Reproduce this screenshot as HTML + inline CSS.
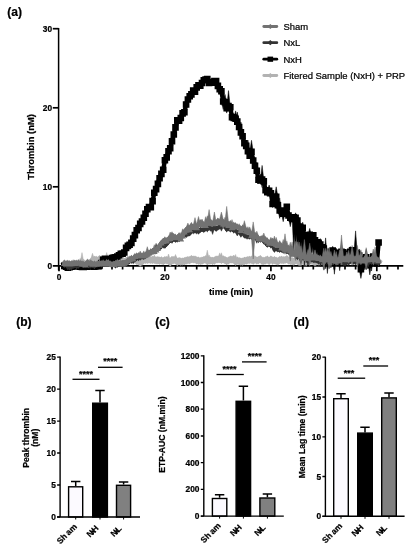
<!DOCTYPE html>
<html lang="en"><head><meta charset="utf-8"><title>Figure</title>
<style>html,body{margin:0;padding:0;background:#fff}svg{display:block;font-family:"Liberation Sans",Arial,sans-serif;font-weight:bold}text{stroke:#000;stroke-width:0.22px}</style>
</head><body>
<svg width="411" height="550" viewBox="0 0 411 550">
<rect width="411" height="550" fill="#fff"/>
<g stroke="#000" stroke-width="1.5" fill="none">
<path d="M58.6 28V270.3"/>
<path d="M52.8 265.9H403.3" stroke-width="1.7"/>
</g>
<g stroke="#000" stroke-width="1.7" fill="none">
<path d="M52.8 186.8H58.6"/>
<path d="M52.8 107.8H58.6"/>
<path d="M52.8 28.7H58.6"/>
<path d="M59.0 265.9v5.3M69.6 265.9v3.7M80.2 265.9v3.7M90.8 265.9v3.7M101.4 265.9v3.7M112.0 265.9v3.7M122.6 265.9v3.7M133.2 265.9v3.7M143.8 265.9v3.7M154.3 265.9v3.7M164.9 265.9v5.3M175.5 265.9v3.7M186.1 265.9v3.7M196.7 265.9v3.7M207.3 265.9v3.7M217.9 265.9v3.7M228.5 265.9v3.7M239.1 265.9v3.7M249.7 265.9v3.7M260.3 265.9v3.7M270.9 265.9v5.3M281.5 265.9v3.7M292.1 265.9v3.7M302.7 265.9v3.7M313.3 265.9v3.7M323.8 265.9v3.7M334.4 265.9v3.7M345.0 265.9v3.7M355.6 265.9v3.7M366.2 265.9v3.7M376.8 265.9v5.3M387.4 265.9v3.7M398.0 265.9v3.7"/>
</g>
<g stroke="#b2b2b2" fill="#b2b2b2">
<path d="M62.1 263.6L64.3 261.7L66.5 263.6L64.3 263.9zM63.9 264.1L66.1 261.3L68.3 264.1L66.1 264.5zM65.6 263.8L67.8 262.2L70.0 263.8L67.8 263.9zM67.4 264.3L69.6 263.3L71.8 264.3L69.6 265.0zM69.2 265.3L71.4 263.4L73.6 265.3L71.4 266.5zM70.9 265.4L73.1 263.2L75.3 265.4L73.1 266.9zM72.7 264.0L74.9 263.4L77.1 264.0L74.9 264.3zM74.5 264.3L76.7 262.6L78.9 264.3L76.7 264.4zM76.2 263.2L78.4 261.4L80.6 263.2L78.4 263.3zM78.0 264.0L80.2 258.3L82.4 264.0L80.2 264.3zM79.8 264.5L82.0 252.6L84.2 264.5L82.0 264.5zM81.5 263.4L83.7 259.3L85.9 263.4L83.7 264.1zM83.3 264.3L85.5 263.7L87.7 264.3L85.5 265.1zM85.1 265.6L87.3 261.0L89.5 265.6L87.3 265.7zM86.8 263.1L89.0 262.7L91.2 263.1L89.0 263.8zM88.6 263.5L90.8 260.3L93.0 263.5L90.8 264.4zM90.3 260.4L92.5 253.3L94.7 260.4L92.5 260.4zM92.1 259.9L94.3 256.8L96.5 259.9L94.3 260.4zM93.9 259.8L96.1 259.3L98.3 259.8L96.1 261.3zM95.6 260.7L97.8 259.0L100.0 260.7L97.8 261.6zM97.4 259.0L99.6 256.4L101.8 259.0L99.6 259.2zM99.2 260.0L101.4 259.5L103.6 260.0L101.4 260.8zM100.9 260.0L103.1 258.9L105.3 260.0L103.1 260.6zM102.7 259.9L104.9 257.3L107.1 259.9L104.9 260.1zM104.5 260.3L106.7 252.6L108.9 260.3L106.7 261.4zM106.2 261.3L108.4 257.3L110.6 261.3L108.4 263.3zM108.0 260.2L110.2 259.7L112.4 260.2L110.2 260.6zM109.8 261.0L112.0 260.2L114.2 261.0L112.0 261.7zM111.5 260.4L113.7 259.0L115.9 260.4L113.7 260.9zM113.3 261.0L115.5 260.3L117.7 261.0L115.5 261.7zM115.1 261.2L117.3 260.4L119.5 261.2L117.3 261.6zM116.8 260.3L119.0 258.0L121.2 260.3L119.0 260.5zM118.6 261.8L120.8 259.3L123.0 261.8L120.8 262.4zM120.4 261.1L122.6 260.0L124.8 261.1L122.6 261.2zM122.1 262.2L124.3 258.0L126.5 262.2L124.3 263.3zM123.9 261.0L126.1 258.2L128.3 261.0L126.1 261.5zM125.7 259.8L127.9 259.3L130.1 259.8L127.9 260.2zM127.4 259.6L129.6 258.0L131.8 259.6L129.6 260.1zM129.2 259.4L131.4 255.4L133.6 259.4L131.4 260.4zM131.0 260.3L133.2 257.4L135.4 260.3L133.2 260.4zM132.7 259.2L134.9 258.7L137.1 259.2L134.9 259.8zM134.5 260.8L136.7 256.8L138.9 260.8L136.7 260.8zM136.3 261.3L138.5 257.5L140.7 261.3L138.5 261.7zM138.0 262.6L140.2 261.2L142.4 262.6L140.2 264.1zM139.8 261.7L142.0 260.9L144.2 261.7L142.0 262.4zM141.6 259.9L143.8 255.7L146.0 259.9L143.8 260.9zM143.3 259.8L145.5 256.2L147.7 259.8L145.5 260.1zM145.1 259.8L147.3 257.8L149.5 259.8L147.3 260.3zM146.8 259.6L149.0 257.6L151.2 259.6L149.0 260.5zM148.6 260.0L150.8 258.6L153.0 260.0L150.8 261.3zM150.4 259.9L152.6 257.2L154.8 259.9L152.6 260.4zM152.1 259.8L154.3 255.1L156.5 259.8L154.3 259.8zM153.9 260.4L156.1 258.0L158.3 260.4L156.1 261.3zM155.7 260.4L157.9 256.4L160.1 260.4L157.9 260.7zM157.4 260.7L159.6 259.9L161.8 260.7L159.6 261.3zM159.2 260.4L161.4 258.0L163.6 260.4L161.4 261.0zM161.0 261.1L163.2 259.8L165.4 261.1L163.2 261.8zM162.7 260.2L164.9 258.3L167.1 260.2L164.9 260.6zM164.5 260.1L166.7 258.6L168.9 260.1L166.7 260.4zM166.3 261.0L168.5 254.0L170.7 261.0L168.5 262.5zM168.0 262.3L170.2 260.3L172.4 262.3L170.2 262.5zM169.8 260.0L172.0 256.4L174.2 260.0L172.0 260.0zM171.6 260.1L173.8 259.0L176.0 260.1L173.8 261.0zM173.3 260.0L175.5 254.5L177.7 260.0L175.5 260.0zM175.1 262.0L177.3 258.9L179.5 262.0L177.3 263.4zM176.9 261.1L179.1 259.8L181.3 261.1L179.1 261.4zM178.6 261.7L180.8 257.9L183.0 261.7L180.8 262.7zM180.4 261.5L182.6 261.1L184.8 261.5L182.6 262.4zM182.2 261.2L184.4 259.2L186.6 261.2L184.4 262.3zM183.9 260.6L186.1 259.3L188.3 260.6L186.1 260.8zM185.7 260.1L187.9 258.1L190.1 260.1L187.9 261.5zM187.5 260.2L189.7 257.6L191.9 260.2L189.7 260.3zM189.2 259.2L191.4 258.5L193.6 259.2L191.4 260.1zM191.0 259.5L193.2 257.9L195.4 259.5L193.2 259.7zM192.8 259.5L195.0 257.9L197.2 259.5L195.0 260.2zM194.5 260.4L196.7 258.1L198.9 260.4L196.7 261.2zM196.3 260.7L198.5 258.9L200.7 260.7L198.5 261.2zM198.1 261.0L200.3 259.8L202.5 261.0L200.3 261.3zM199.8 260.7L202.0 259.6L204.2 260.7L202.0 260.8zM201.6 260.0L203.8 258.7L206.0 260.0L203.8 260.5zM203.4 259.4L205.6 258.0L207.8 259.4L205.6 259.6zM205.1 261.2L207.3 250.2L209.5 261.2L207.3 261.2zM206.9 260.6L209.1 255.0L211.3 260.6L209.1 261.2zM208.6 260.5L210.8 258.1L213.0 260.5L210.8 261.1zM210.4 260.9L212.6 259.2L214.8 260.9L212.6 262.0zM212.2 260.6L214.4 259.4L216.6 260.6L214.4 261.1zM213.9 259.5L216.1 257.2L218.3 259.5L216.1 260.0zM215.7 259.5L217.9 258.1L220.1 259.5L217.9 260.1zM217.5 259.2L219.7 252.9L221.9 259.2L219.7 259.2zM219.2 259.8L221.4 252.8L223.6 259.8L221.4 260.9zM221.0 259.4L223.2 257.6L225.4 259.4L223.2 260.6zM222.8 260.1L225.0 257.3L227.2 260.1L225.0 260.3zM224.5 261.1L226.7 260.5L228.9 261.1L226.7 261.2zM226.3 260.5L228.5 258.4L230.7 260.5L228.5 261.5zM228.1 259.5L230.3 257.6L232.5 259.5L230.3 259.6zM229.8 259.7L232.0 257.7L234.2 259.7L232.0 260.1zM231.6 259.7L233.8 255.0L236.0 259.7L233.8 259.7zM233.4 261.6L235.6 254.5L237.8 261.6L235.6 262.0zM235.1 260.7L237.3 259.6L239.5 260.7L237.3 261.8zM236.9 261.2L239.1 260.0L241.3 261.2L239.1 261.3zM238.7 261.6L240.9 261.2L243.1 261.6L240.9 262.4zM240.4 261.6L242.6 260.4L244.8 261.6L242.6 261.8zM242.2 260.8L244.4 257.2L246.6 260.8L244.4 261.5zM244.0 260.7L246.2 258.1L248.4 260.7L246.2 261.5zM245.7 260.1L247.9 258.0L250.1 260.1L247.9 260.8zM247.5 259.9L249.7 257.0L251.9 259.9L249.7 260.3zM249.3 259.8L251.5 259.2L253.7 259.8L251.5 260.3zM251.0 260.6L253.2 251.2L255.4 260.6L253.2 260.6zM252.8 259.7L255.0 259.1L257.2 259.7L255.0 259.8zM254.6 260.5L256.8 259.5L259.0 260.5L256.8 260.9zM256.3 260.1L258.5 258.5L260.7 260.1L258.5 260.3zM258.1 259.2L260.3 258.5L262.5 259.2L260.3 259.2zM259.9 260.8L262.1 259.0L264.3 260.8L262.1 261.9zM261.6 260.9L263.8 260.1L266.0 260.9L263.8 261.4zM263.4 260.4L265.6 257.2L267.8 260.4L265.6 260.6zM265.1 259.7L267.3 257.4L269.5 259.7L267.3 261.0zM266.9 260.9L269.1 257.7L271.3 260.9L269.1 261.0zM268.7 259.5L270.9 256.3L273.1 259.5L270.9 260.0zM270.4 260.6L272.6 259.2L274.8 260.6L272.6 261.0zM272.2 260.2L274.4 257.4L276.6 260.2L274.4 261.7zM274.0 260.8L276.2 257.9L278.4 260.8L276.2 262.6zM275.7 261.3L277.9 258.8L280.1 261.3L277.9 262.2zM277.5 260.1L279.7 259.2L281.9 260.1L279.7 261.0zM279.3 259.8L281.5 257.0L283.7 259.8L281.5 261.1zM281.0 260.2L283.2 258.7L285.4 260.2L283.2 260.4zM282.8 260.0L285.0 258.0L287.2 260.0L285.0 260.2zM284.6 259.2L286.8 257.5L289.0 259.2L286.8 260.2zM286.3 260.5L288.5 259.8L290.7 260.5L288.5 260.8zM288.1 261.0L290.3 259.8L292.5 261.0L290.3 261.1zM289.9 261.1L292.1 260.3L294.3 261.1L292.1 261.6zM291.6 261.6L293.8 259.8L296.0 261.6L293.8 262.8zM293.4 260.1L295.6 257.9L297.8 260.1L295.6 261.0zM295.2 260.9L297.4 258.1L299.6 260.9L297.4 261.1zM296.9 261.9L299.1 260.3L301.3 261.9L299.1 262.2zM298.7 261.8L300.9 258.1L303.1 261.8L300.9 261.9zM300.5 260.3L302.7 258.2L304.9 260.3L302.7 260.4zM302.2 262.0L304.4 258.9L306.6 262.0L304.4 263.4zM304.0 261.9L306.2 261.2L308.4 261.9L306.2 262.0zM305.8 261.2L308.0 257.8L310.2 261.2L308.0 262.0zM307.5 260.2L309.7 259.1L311.9 260.2L309.7 260.2zM309.3 260.7L311.5 256.7L313.7 260.7L311.5 261.1zM311.1 261.4L313.3 256.5L315.5 261.4L313.3 261.9zM312.8 262.1L315.0 260.6L317.2 262.1L315.0 262.9zM314.6 261.3L316.8 260.2L319.0 261.3L316.8 262.1zM316.4 261.3L318.6 258.9L320.8 261.3L318.6 261.6zM318.1 261.9L320.3 260.3L322.5 261.9L320.3 262.4zM319.9 260.5L322.1 257.0L324.3 260.5L322.1 262.8zM321.6 261.1L323.8 260.0L326.0 261.1L323.8 261.2zM323.4 261.3L325.6 257.8L327.8 261.3L325.6 261.8zM325.2 261.9L327.4 261.0L329.6 261.9L327.4 262.7zM326.9 261.1L329.1 258.7L331.3 261.1L329.1 261.7zM328.7 261.3L330.9 256.7L333.1 261.3L330.9 261.8zM330.5 260.6L332.7 257.1L334.9 260.6L332.7 260.9zM332.2 259.1L334.4 254.3L336.6 259.1L334.4 259.8zM334.0 260.8L336.2 256.6L338.4 260.8L336.2 261.7zM335.8 260.0L338.0 259.0L340.2 260.0L338.0 260.1zM337.5 261.1L339.7 258.2L341.9 261.1L339.7 261.8zM339.3 259.5L341.5 256.0L343.7 259.5L341.5 259.7zM341.1 260.1L343.3 257.2L345.5 260.1L343.3 261.4zM342.8 259.5L345.0 258.3L347.2 259.5L345.0 259.8zM344.6 260.5L346.8 257.1L349.0 260.5L346.8 260.9zM346.4 260.9L348.6 256.5L350.8 260.9L348.6 261.1zM348.1 260.5L350.3 258.4L352.5 260.5L350.3 260.9zM349.9 261.0L352.1 258.8L354.3 261.0L352.1 261.9zM351.7 260.5L353.9 259.4L356.1 260.5L353.9 261.8zM353.4 260.0L355.6 256.1L357.8 260.0L355.6 260.8zM355.2 260.6L357.4 257.1L359.6 260.6L357.4 261.0zM357.0 260.2L359.2 258.7L361.4 260.2L359.2 260.4zM358.7 261.9L360.9 260.9L363.1 261.9L360.9 263.0zM360.5 259.8L362.7 259.0L364.9 259.8L362.7 259.9zM362.3 259.8L364.5 258.2L366.7 259.8L364.5 260.9zM364.0 260.2L366.2 259.2L368.4 260.2L366.2 260.7zM365.8 261.6L368.0 259.0L370.2 261.6L368.0 262.3zM367.6 260.6L369.8 257.2L372.0 260.6L369.8 261.6zM369.3 260.5L371.5 259.7L373.7 260.5L371.5 262.2zM371.1 261.1L373.3 257.9L375.5 261.1L373.3 261.6zM372.9 260.4L375.1 256.8L377.3 260.4L375.1 261.1zM374.6 260.7L376.8 260.3L379.0 260.7L376.8 261.0zM376.4 261.3L378.6 260.9L380.8 261.3L378.6 262.4z" stroke-width="0.5" stroke-linejoin="miter"/>
<polyline points="64.3,263.6 66.1,264.1 67.8,263.8 69.6,264.3 71.4,265.3 73.1,265.4 74.9,264.0 76.7,264.3 78.4,263.2 80.2,264.0 82.0,264.5 83.7,263.4 85.5,264.3 87.3,265.6 89.0,263.1 90.8,263.5 92.5,260.4 94.3,259.9 96.1,259.8 97.8,260.7 99.6,259.0 101.4,260.0 103.1,260.0 104.9,259.9 106.7,260.3 108.4,261.3 110.2,260.2 112.0,261.0 113.7,260.4 115.5,261.0 117.3,261.2 119.0,260.3 120.8,261.8 122.6,261.1 124.3,262.2 126.1,261.0 127.9,259.8 129.6,259.6 131.4,259.4 133.2,260.3 134.9,259.2 136.7,260.8 138.5,261.3 140.2,262.6 142.0,261.7 143.8,259.9 145.5,259.8 147.3,259.8 149.0,259.6 150.8,260.0 152.6,259.9 154.3,259.8 156.1,260.4 157.9,260.4 159.6,260.7 161.4,260.4 163.2,261.1 164.9,260.2 166.7,260.1 168.5,261.0 170.2,262.3 172.0,260.0 173.8,260.1 175.5,260.0 177.3,262.0 179.1,261.1 180.8,261.7 182.6,261.5 184.4,261.2 186.1,260.6 187.9,260.1 189.7,260.2 191.4,259.2 193.2,259.5 195.0,259.5 196.7,260.4 198.5,260.7 200.3,261.0 202.0,260.7 203.8,260.0 205.6,259.4 207.3,261.2 209.1,260.6 210.8,260.5 212.6,260.9 214.4,260.6 216.1,259.5 217.9,259.5 219.7,259.2 221.4,259.8 223.2,259.4 225.0,260.1 226.7,261.1 228.5,260.5 230.3,259.5 232.0,259.7 233.8,259.7 235.6,261.6 237.3,260.7 239.1,261.2 240.9,261.6 242.6,261.6 244.4,260.8 246.2,260.7 247.9,260.1 249.7,259.9 251.5,259.8 253.2,260.6 255.0,259.7 256.8,260.5 258.5,260.1 260.3,259.2 262.1,260.8 263.8,260.9 265.6,260.4 267.3,259.7 269.1,260.9 270.9,259.5 272.6,260.6 274.4,260.2 276.2,260.8 277.9,261.3 279.7,260.1 281.5,259.8 283.2,260.2 285.0,260.0 286.8,259.2 288.5,260.5 290.3,261.0 292.1,261.1 293.8,261.6 295.6,260.1 297.4,260.9 299.1,261.9 300.9,261.8 302.7,260.3 304.4,262.0 306.2,261.9 308.0,261.2 309.7,260.2 311.5,260.7 313.3,261.4 315.0,262.1 316.8,261.3 318.6,261.3 320.3,261.9 322.1,260.5 323.8,261.1 325.6,261.3 327.4,261.9 329.1,261.1 330.9,261.3 332.7,260.6 334.4,259.1 336.2,260.8 338.0,260.0 339.7,261.1 341.5,259.5 343.3,260.1 345.0,259.5 346.8,260.5 348.6,260.9 350.3,260.5 352.1,261.0 353.9,260.5 355.6,260.0 357.4,260.6 359.2,260.2 360.9,261.9 362.7,259.8 364.5,259.8 366.2,260.2 368.0,261.6 369.8,260.6 371.5,260.5 373.3,261.1 375.1,260.4 376.8,260.7 378.6,261.3" fill="none" stroke-width="5.4" stroke-linejoin="round"/>
<path d="M60.2 263.6l4.1 -4.1l4.1 4.1l-4.1 4.1zM62.0 264.1l4.1 -4.1l4.1 4.1l-4.1 4.1zM63.7 263.8l4.1 -4.1l4.1 4.1l-4.1 4.1zM65.5 264.3l4.1 -4.1l4.1 4.1l-4.1 4.1zM67.3 265.3l4.1 -4.1l4.1 4.1l-4.1 4.1zM69.0 265.4l4.1 -4.1l4.1 4.1l-4.1 4.1zM70.8 264.0l4.1 -4.1l4.1 4.1l-4.1 4.1zM72.6 264.3l4.1 -4.1l4.1 4.1l-4.1 4.1zM74.3 263.2l4.1 -4.1l4.1 4.1l-4.1 4.1zM76.1 264.0l4.1 -4.1l4.1 4.1l-4.1 4.1zM77.9 264.5l4.1 -4.1l4.1 4.1l-4.1 4.1zM79.6 263.4l4.1 -4.1l4.1 4.1l-4.1 4.1zM81.4 264.3l4.1 -4.1l4.1 4.1l-4.1 4.1zM83.2 265.6l4.1 -4.1l4.1 4.1l-4.1 4.1zM84.9 263.1l4.1 -4.1l4.1 4.1l-4.1 4.1zM86.7 263.5l4.1 -4.1l4.1 4.1l-4.1 4.1zM88.4 260.4l4.1 -4.1l4.1 4.1l-4.1 4.1zM90.2 259.9l4.1 -4.1l4.1 4.1l-4.1 4.1zM92.0 259.8l4.1 -4.1l4.1 4.1l-4.1 4.1zM93.7 260.7l4.1 -4.1l4.1 4.1l-4.1 4.1zM95.5 259.0l4.1 -4.1l4.1 4.1l-4.1 4.1zM97.3 260.0l4.1 -4.1l4.1 4.1l-4.1 4.1zM99.0 260.0l4.1 -4.1l4.1 4.1l-4.1 4.1zM100.8 259.9l4.1 -4.1l4.1 4.1l-4.1 4.1zM102.6 260.3l4.1 -4.1l4.1 4.1l-4.1 4.1zM104.3 261.3l4.1 -4.1l4.1 4.1l-4.1 4.1zM106.1 260.2l4.1 -4.1l4.1 4.1l-4.1 4.1zM107.9 261.0l4.1 -4.1l4.1 4.1l-4.1 4.1zM109.6 260.4l4.1 -4.1l4.1 4.1l-4.1 4.1zM111.4 261.0l4.1 -4.1l4.1 4.1l-4.1 4.1zM113.2 261.2l4.1 -4.1l4.1 4.1l-4.1 4.1zM114.9 260.3l4.1 -4.1l4.1 4.1l-4.1 4.1zM116.7 261.8l4.1 -4.1l4.1 4.1l-4.1 4.1zM118.5 261.1l4.1 -4.1l4.1 4.1l-4.1 4.1zM120.2 262.2l4.1 -4.1l4.1 4.1l-4.1 4.1zM122.0 261.0l4.1 -4.1l4.1 4.1l-4.1 4.1zM123.8 259.8l4.1 -4.1l4.1 4.1l-4.1 4.1zM125.5 259.6l4.1 -4.1l4.1 4.1l-4.1 4.1zM127.3 259.4l4.1 -4.1l4.1 4.1l-4.1 4.1zM129.1 260.3l4.1 -4.1l4.1 4.1l-4.1 4.1zM130.8 259.2l4.1 -4.1l4.1 4.1l-4.1 4.1zM132.6 260.8l4.1 -4.1l4.1 4.1l-4.1 4.1zM134.4 261.3l4.1 -4.1l4.1 4.1l-4.1 4.1zM136.1 262.6l4.1 -4.1l4.1 4.1l-4.1 4.1zM137.9 261.7l4.1 -4.1l4.1 4.1l-4.1 4.1zM139.7 259.9l4.1 -4.1l4.1 4.1l-4.1 4.1zM141.4 259.8l4.1 -4.1l4.1 4.1l-4.1 4.1zM143.2 259.8l4.1 -4.1l4.1 4.1l-4.1 4.1zM144.9 259.6l4.1 -4.1l4.1 4.1l-4.1 4.1zM146.7 260.0l4.1 -4.1l4.1 4.1l-4.1 4.1zM148.5 259.9l4.1 -4.1l4.1 4.1l-4.1 4.1zM150.2 259.8l4.1 -4.1l4.1 4.1l-4.1 4.1zM152.0 260.4l4.1 -4.1l4.1 4.1l-4.1 4.1zM153.8 260.4l4.1 -4.1l4.1 4.1l-4.1 4.1zM155.5 260.7l4.1 -4.1l4.1 4.1l-4.1 4.1zM157.3 260.4l4.1 -4.1l4.1 4.1l-4.1 4.1zM159.1 261.1l4.1 -4.1l4.1 4.1l-4.1 4.1zM160.8 260.2l4.1 -4.1l4.1 4.1l-4.1 4.1zM162.6 260.1l4.1 -4.1l4.1 4.1l-4.1 4.1zM164.4 261.0l4.1 -4.1l4.1 4.1l-4.1 4.1zM166.1 262.3l4.1 -4.1l4.1 4.1l-4.1 4.1zM167.9 260.0l4.1 -4.1l4.1 4.1l-4.1 4.1zM169.7 260.1l4.1 -4.1l4.1 4.1l-4.1 4.1zM171.4 260.0l4.1 -4.1l4.1 4.1l-4.1 4.1zM173.2 262.0l4.1 -4.1l4.1 4.1l-4.1 4.1zM175.0 261.1l4.1 -4.1l4.1 4.1l-4.1 4.1zM176.7 261.7l4.1 -4.1l4.1 4.1l-4.1 4.1zM178.5 261.5l4.1 -4.1l4.1 4.1l-4.1 4.1zM180.3 261.2l4.1 -4.1l4.1 4.1l-4.1 4.1zM182.0 260.6l4.1 -4.1l4.1 4.1l-4.1 4.1zM183.8 260.1l4.1 -4.1l4.1 4.1l-4.1 4.1zM185.6 260.2l4.1 -4.1l4.1 4.1l-4.1 4.1zM187.3 259.2l4.1 -4.1l4.1 4.1l-4.1 4.1zM189.1 259.5l4.1 -4.1l4.1 4.1l-4.1 4.1zM190.9 259.5l4.1 -4.1l4.1 4.1l-4.1 4.1zM192.6 260.4l4.1 -4.1l4.1 4.1l-4.1 4.1zM194.4 260.7l4.1 -4.1l4.1 4.1l-4.1 4.1zM196.2 261.0l4.1 -4.1l4.1 4.1l-4.1 4.1zM197.9 260.7l4.1 -4.1l4.1 4.1l-4.1 4.1zM199.7 260.0l4.1 -4.1l4.1 4.1l-4.1 4.1zM201.5 259.4l4.1 -4.1l4.1 4.1l-4.1 4.1zM203.2 261.2l4.1 -4.1l4.1 4.1l-4.1 4.1zM205.0 260.6l4.1 -4.1l4.1 4.1l-4.1 4.1zM206.7 260.5l4.1 -4.1l4.1 4.1l-4.1 4.1zM208.5 260.9l4.1 -4.1l4.1 4.1l-4.1 4.1zM210.3 260.6l4.1 -4.1l4.1 4.1l-4.1 4.1zM212.0 259.5l4.1 -4.1l4.1 4.1l-4.1 4.1zM213.8 259.5l4.1 -4.1l4.1 4.1l-4.1 4.1zM215.6 259.2l4.1 -4.1l4.1 4.1l-4.1 4.1zM217.3 259.8l4.1 -4.1l4.1 4.1l-4.1 4.1zM219.1 259.4l4.1 -4.1l4.1 4.1l-4.1 4.1zM220.9 260.1l4.1 -4.1l4.1 4.1l-4.1 4.1zM222.6 261.1l4.1 -4.1l4.1 4.1l-4.1 4.1zM224.4 260.5l4.1 -4.1l4.1 4.1l-4.1 4.1zM226.2 259.5l4.1 -4.1l4.1 4.1l-4.1 4.1zM227.9 259.7l4.1 -4.1l4.1 4.1l-4.1 4.1zM229.7 259.7l4.1 -4.1l4.1 4.1l-4.1 4.1zM231.5 261.6l4.1 -4.1l4.1 4.1l-4.1 4.1zM233.2 260.7l4.1 -4.1l4.1 4.1l-4.1 4.1zM235.0 261.2l4.1 -4.1l4.1 4.1l-4.1 4.1zM236.8 261.6l4.1 -4.1l4.1 4.1l-4.1 4.1zM238.5 261.6l4.1 -4.1l4.1 4.1l-4.1 4.1zM240.3 260.8l4.1 -4.1l4.1 4.1l-4.1 4.1zM242.1 260.7l4.1 -4.1l4.1 4.1l-4.1 4.1zM243.8 260.1l4.1 -4.1l4.1 4.1l-4.1 4.1zM245.6 259.9l4.1 -4.1l4.1 4.1l-4.1 4.1zM247.4 259.8l4.1 -4.1l4.1 4.1l-4.1 4.1zM249.1 260.6l4.1 -4.1l4.1 4.1l-4.1 4.1zM250.9 259.7l4.1 -4.1l4.1 4.1l-4.1 4.1zM252.7 260.5l4.1 -4.1l4.1 4.1l-4.1 4.1zM254.4 260.1l4.1 -4.1l4.1 4.1l-4.1 4.1zM256.2 259.2l4.1 -4.1l4.1 4.1l-4.1 4.1zM258.0 260.8l4.1 -4.1l4.1 4.1l-4.1 4.1zM259.7 260.9l4.1 -4.1l4.1 4.1l-4.1 4.1zM261.5 260.4l4.1 -4.1l4.1 4.1l-4.1 4.1zM263.2 259.7l4.1 -4.1l4.1 4.1l-4.1 4.1zM265.0 260.9l4.1 -4.1l4.1 4.1l-4.1 4.1zM266.8 259.5l4.1 -4.1l4.1 4.1l-4.1 4.1zM268.5 260.6l4.1 -4.1l4.1 4.1l-4.1 4.1zM270.3 260.2l4.1 -4.1l4.1 4.1l-4.1 4.1zM272.1 260.8l4.1 -4.1l4.1 4.1l-4.1 4.1zM273.8 261.3l4.1 -4.1l4.1 4.1l-4.1 4.1zM275.6 260.1l4.1 -4.1l4.1 4.1l-4.1 4.1zM277.4 259.8l4.1 -4.1l4.1 4.1l-4.1 4.1zM279.1 260.2l4.1 -4.1l4.1 4.1l-4.1 4.1zM280.9 260.0l4.1 -4.1l4.1 4.1l-4.1 4.1zM282.7 259.2l4.1 -4.1l4.1 4.1l-4.1 4.1zM284.4 260.5l4.1 -4.1l4.1 4.1l-4.1 4.1zM286.2 261.0l4.1 -4.1l4.1 4.1l-4.1 4.1zM288.0 261.1l4.1 -4.1l4.1 4.1l-4.1 4.1zM289.7 261.6l4.1 -4.1l4.1 4.1l-4.1 4.1zM291.5 260.1l4.1 -4.1l4.1 4.1l-4.1 4.1zM293.3 260.9l4.1 -4.1l4.1 4.1l-4.1 4.1zM295.0 261.9l4.1 -4.1l4.1 4.1l-4.1 4.1zM296.8 261.8l4.1 -4.1l4.1 4.1l-4.1 4.1zM298.6 260.3l4.1 -4.1l4.1 4.1l-4.1 4.1zM300.3 262.0l4.1 -4.1l4.1 4.1l-4.1 4.1zM302.1 261.9l4.1 -4.1l4.1 4.1l-4.1 4.1zM303.9 261.2l4.1 -4.1l4.1 4.1l-4.1 4.1zM305.6 260.2l4.1 -4.1l4.1 4.1l-4.1 4.1zM307.4 260.7l4.1 -4.1l4.1 4.1l-4.1 4.1zM309.2 261.4l4.1 -4.1l4.1 4.1l-4.1 4.1zM310.9 262.1l4.1 -4.1l4.1 4.1l-4.1 4.1zM312.7 261.3l4.1 -4.1l4.1 4.1l-4.1 4.1zM314.5 261.3l4.1 -4.1l4.1 4.1l-4.1 4.1zM316.2 261.9l4.1 -4.1l4.1 4.1l-4.1 4.1zM318.0 260.5l4.1 -4.1l4.1 4.1l-4.1 4.1zM319.7 261.1l4.1 -4.1l4.1 4.1l-4.1 4.1zM321.5 261.3l4.1 -4.1l4.1 4.1l-4.1 4.1zM323.3 261.9l4.1 -4.1l4.1 4.1l-4.1 4.1zM325.0 261.1l4.1 -4.1l4.1 4.1l-4.1 4.1zM326.8 261.3l4.1 -4.1l4.1 4.1l-4.1 4.1zM328.6 260.6l4.1 -4.1l4.1 4.1l-4.1 4.1zM330.3 259.1l4.1 -4.1l4.1 4.1l-4.1 4.1zM332.1 260.8l4.1 -4.1l4.1 4.1l-4.1 4.1zM333.9 260.0l4.1 -4.1l4.1 4.1l-4.1 4.1zM335.6 261.1l4.1 -4.1l4.1 4.1l-4.1 4.1zM337.4 259.5l4.1 -4.1l4.1 4.1l-4.1 4.1zM339.2 260.1l4.1 -4.1l4.1 4.1l-4.1 4.1zM340.9 259.5l4.1 -4.1l4.1 4.1l-4.1 4.1zM342.7 260.5l4.1 -4.1l4.1 4.1l-4.1 4.1zM344.5 260.9l4.1 -4.1l4.1 4.1l-4.1 4.1zM346.2 260.5l4.1 -4.1l4.1 4.1l-4.1 4.1zM348.0 261.0l4.1 -4.1l4.1 4.1l-4.1 4.1zM349.8 260.5l4.1 -4.1l4.1 4.1l-4.1 4.1zM351.5 260.0l4.1 -4.1l4.1 4.1l-4.1 4.1zM353.3 260.6l4.1 -4.1l4.1 4.1l-4.1 4.1zM355.1 260.2l4.1 -4.1l4.1 4.1l-4.1 4.1zM356.8 261.9l4.1 -4.1l4.1 4.1l-4.1 4.1zM358.6 259.8l4.1 -4.1l4.1 4.1l-4.1 4.1zM360.4 259.8l4.1 -4.1l4.1 4.1l-4.1 4.1zM362.1 260.2l4.1 -4.1l4.1 4.1l-4.1 4.1zM363.9 261.6l4.1 -4.1l4.1 4.1l-4.1 4.1zM365.7 260.6l4.1 -4.1l4.1 4.1l-4.1 4.1zM367.4 260.5l4.1 -4.1l4.1 4.1l-4.1 4.1zM369.2 261.1l4.1 -4.1l4.1 4.1l-4.1 4.1zM371.0 260.4l4.1 -4.1l4.1 4.1l-4.1 4.1zM372.7 260.7l4.1 -4.1l4.1 4.1l-4.1 4.1zM374.5 261.3l4.1 -4.1l4.1 4.1l-4.1 4.1z" stroke="none"/>
</g>
<g stroke="#000" fill="#000">
<path d="M62.6 265.9L64.3 264.2L66.0 265.9L64.3 266.5zM64.4 266.8L66.1 265.6L67.8 266.8L66.1 267.7zM66.1 267.6L67.8 266.3L69.5 267.6L67.8 268.3zM67.9 267.2L69.6 265.3L71.3 267.2L69.6 268.2zM69.7 266.7L71.4 265.3L73.1 266.7L71.4 268.5zM71.4 266.3L73.1 265.1L74.8 266.3L73.1 266.8zM73.2 266.4L74.9 265.5L76.6 266.4L74.9 267.2zM75.0 266.3L76.7 265.9L78.4 266.3L76.7 267.4zM76.7 266.3L78.4 265.7L80.1 266.3L78.4 267.1zM78.5 266.8L80.2 265.3L81.9 266.8L80.2 267.9zM80.3 266.9L82.0 266.4L83.7 266.9L82.0 268.5zM82.0 267.0L83.7 265.8L85.4 267.0L83.7 267.8zM83.8 266.6L85.5 265.5L87.2 266.6L85.5 267.7zM85.6 266.8L87.3 266.3L89.0 266.8L87.3 268.6zM87.3 265.9L89.0 265.0L90.7 265.9L89.0 266.6zM89.1 266.2L90.8 265.1L92.5 266.2L90.8 267.1zM90.8 266.1L92.5 264.6L94.2 266.1L92.5 267.8zM92.6 266.7L94.3 265.0L96.0 266.7L94.3 267.5zM94.4 266.5L96.1 265.8L97.8 266.5L96.1 266.9zM96.1 266.2L97.8 265.6L99.5 266.2L97.8 267.3zM97.9 265.5L99.6 264.0L101.3 265.5L99.6 266.9zM99.7 263.0L101.4 261.4L103.1 263.0L101.4 264.3zM101.4 259.7L103.1 258.1L104.8 259.7L103.1 260.4zM103.2 258.7L104.9 256.5L106.6 258.7L104.9 260.0zM105.0 259.2L106.7 258.6L108.4 259.2L106.7 260.5zM106.7 259.5L108.4 256.5L110.1 259.5L108.4 260.2zM108.5 259.0L110.2 258.1L111.9 259.0L110.2 259.8zM110.3 258.1L112.0 257.6L113.7 258.1L112.0 259.8zM112.0 257.6L113.7 257.1L115.4 257.6L113.7 259.0zM113.8 257.3L115.5 256.8L117.2 257.3L115.5 258.5zM115.6 256.5L117.3 255.1L119.0 256.5L117.3 257.2zM117.3 255.3L119.0 254.2L120.7 255.3L119.0 257.5zM119.1 253.9L120.8 251.1L122.5 253.9L120.8 257.8zM120.9 253.6L122.6 251.9L124.3 253.6L122.6 254.6zM122.6 252.5L124.3 251.2L126.0 252.5L124.3 255.5zM124.4 247.9L126.1 246.4L127.8 247.9L126.1 251.4zM126.2 245.9L127.9 245.2L129.6 245.9L127.9 249.2zM127.9 244.8L129.6 241.8L131.3 244.8L129.6 245.4zM129.7 242.9L131.4 240.8L133.1 242.9L131.4 246.5zM131.5 238.6L133.2 236.5L134.9 238.6L133.2 241.3zM133.2 235.1L134.9 234.3L136.6 235.1L134.9 237.3zM135.0 230.2L136.7 228.1L138.4 230.2L136.7 234.3zM136.8 228.0L138.5 225.5L140.2 228.0L138.5 232.5zM138.5 223.9L140.2 220.5L141.9 223.9L140.2 225.1zM140.3 221.5L142.0 220.8L143.7 221.5L142.0 224.2zM142.1 217.8L143.8 216.4L145.5 217.8L143.8 219.6zM143.8 213.7L145.5 211.1L147.2 213.7L145.5 214.3zM145.6 209.2L147.3 208.1L149.0 209.2L147.3 210.9zM147.3 207.0L149.0 204.6L150.7 207.0L149.0 208.1zM149.1 207.3L150.8 205.8L152.5 207.3L150.8 208.0zM150.9 201.1L152.6 200.1L154.3 201.1L152.6 201.7zM152.6 192.8L154.3 191.6L156.0 192.8L154.3 194.7zM154.4 189.1L156.1 187.9L157.8 189.1L156.1 190.2zM156.2 183.9L157.9 178.2L159.6 183.9L157.9 185.0zM157.9 178.2L159.6 176.6L161.3 178.2L159.6 179.8zM159.7 173.9L161.4 172.9L163.1 173.9L161.4 174.9zM161.5 169.8L163.2 166.6L164.9 169.8L163.2 172.4zM163.2 160.3L164.9 158.8L166.6 160.3L164.9 161.2zM165.0 157.4L166.7 154.3L168.4 157.4L166.7 158.0zM166.8 151.2L168.5 147.9L170.2 151.2L168.5 153.9zM168.5 148.3L170.2 146.3L171.9 148.3L170.2 151.6zM170.3 141.2L172.0 140.2L173.7 141.2L172.0 144.4zM172.1 134.5L173.8 131.1L175.5 134.5L173.8 135.3zM173.8 127.4L175.5 126.8L177.2 127.4L175.5 129.5zM175.6 120.4L177.3 117.8L179.0 120.4L177.3 121.5zM177.4 120.7L179.1 118.0L180.8 120.7L179.1 122.6zM179.1 118.0L180.8 114.3L182.5 118.0L180.8 121.6zM180.9 113.4L182.6 110.6L184.3 113.4L182.6 114.2zM182.7 112.2L184.4 110.7L186.1 112.2L184.4 116.1zM184.4 104.5L186.1 102.2L187.8 104.5L186.1 107.7zM186.2 99.5L187.9 98.7L189.6 99.5L187.9 100.8zM188.0 96.2L189.7 95.4L191.4 96.2L189.7 99.7zM189.7 94.4L191.4 93.4L193.1 94.4L191.4 96.2zM191.5 90.6L193.2 90.0L194.9 90.6L193.2 93.6zM193.3 91.6L195.0 91.0L196.7 91.6L195.0 93.8zM195.0 87.4L196.7 86.7L198.4 87.4L196.7 89.3zM196.8 85.2L198.5 83.1L200.2 85.2L198.5 86.5zM198.6 85.7L200.3 82.9L202.0 85.7L200.3 86.2zM200.3 83.0L202.0 81.0L203.7 83.0L202.0 85.4zM202.1 80.3L203.8 78.0L205.5 80.3L203.8 81.5zM203.9 79.5L205.6 78.3L207.3 79.5L205.6 80.3zM205.6 79.0L207.3 76.5L209.0 79.0L207.3 80.5zM207.4 82.9L209.1 81.8L210.8 82.9L209.1 84.6zM209.1 82.1L210.8 81.6L212.5 82.1L210.8 83.9zM210.9 82.8L212.6 82.1L214.3 82.8L212.6 83.9zM212.7 81.1L214.4 79.9L216.1 81.1L214.4 82.0zM214.4 81.1L216.1 80.5L217.8 81.1L216.1 82.2zM216.2 85.9L217.9 85.3L219.6 85.9L217.9 87.5zM218.0 89.2L219.7 88.4L221.4 89.2L219.7 91.4zM219.7 91.2L221.4 86.9L223.1 91.2L221.4 92.0zM221.5 101.5L223.2 88.9L224.9 101.5L223.2 109.4zM223.3 102.2L225.0 94.4L226.7 102.2L225.0 107.0zM225.0 108.1L226.7 101.3L228.4 108.1L226.7 113.1zM226.8 106.0L228.5 90.6L230.2 106.0L228.5 108.8zM228.6 107.3L230.3 103.7L232.0 107.3L230.3 114.0zM230.3 117.3L232.0 110.8L233.7 117.3L232.0 119.1zM232.1 117.9L233.8 113.3L235.5 117.9L233.8 118.8zM233.9 118.7L235.6 110.9L237.3 118.7L235.6 122.8zM235.6 121.6L237.3 112.1L239.0 121.6L237.3 126.3zM237.4 127.0L239.1 118.9L240.8 127.0L239.1 130.7zM239.2 132.4L240.9 122.0L242.6 132.4L240.9 136.4zM240.9 136.2L242.6 133.3L244.3 136.2L242.6 138.3zM242.7 143.2L244.4 142.3L246.1 143.2L244.4 148.8zM244.5 145.9L246.2 143.0L247.9 145.9L246.2 147.1zM246.2 151.1L247.9 140.0L249.6 151.1L247.9 153.8zM248.0 155.7L249.7 150.7L251.4 155.7L249.7 156.7zM249.8 151.7L251.5 140.3L253.2 151.7L251.5 158.9zM251.5 160.5L253.2 154.0L254.9 160.5L253.2 166.0zM253.3 165.8L255.0 163.9L256.7 165.8L255.0 171.7zM255.1 170.8L256.8 162.4L258.5 170.8L256.8 175.6zM256.8 179.8L258.5 175.4L260.2 179.8L258.5 183.5zM258.6 180.5L260.3 174.0L262.0 180.5L260.3 183.8zM260.4 179.6L262.1 165.4L263.8 179.6L262.1 187.5zM262.1 181.4L263.8 179.6L265.5 181.4L263.8 186.2zM263.9 190.3L265.6 186.4L267.3 190.3L265.6 191.9zM265.6 192.1L267.3 188.2L269.0 192.1L267.3 196.4zM267.4 190.8L269.1 185.1L270.8 190.8L269.1 192.2zM269.2 193.2L270.9 191.5L272.6 193.2L270.9 194.4zM270.9 204.0L272.6 200.6L274.3 204.0L272.6 207.6zM272.7 196.6L274.4 195.0L276.1 196.6L274.4 198.3zM274.5 196.8L276.2 186.8L277.9 196.8L276.2 198.8zM276.2 205.2L277.9 203.9L279.6 205.2L277.9 210.9zM278.0 210.5L279.7 197.9L281.4 210.5L279.7 218.4zM279.8 210.6L281.5 209.2L283.2 210.6L281.5 213.9zM281.5 213.7L283.2 209.2L284.9 213.7L283.2 221.7zM283.3 212.3L285.0 211.4L286.7 212.3L285.0 214.4zM285.1 206.9L286.8 205.4L288.5 206.9L286.8 208.8zM286.8 215.5L288.5 214.3L290.2 215.5L288.5 218.7zM288.6 217.8L290.3 216.6L292.0 217.8L290.3 226.7zM290.4 218.8L292.1 215.4L293.8 218.8L292.1 222.6zM292.1 217.3L293.8 214.5L295.5 217.3L293.8 252.6zM293.9 217.7L295.6 212.8L297.3 217.7L295.6 251.5zM295.7 220.6L297.4 217.2L299.1 220.6L297.4 252.1zM297.4 226.6L299.1 225.2L300.8 226.6L299.1 258.9zM299.2 229.0L300.9 227.6L302.6 229.0L300.9 257.3zM301.0 227.8L302.7 222.2L304.4 227.8L302.7 256.6zM302.7 235.3L304.4 230.2L306.1 235.3L304.4 265.9zM304.5 237.3L306.2 233.5L307.9 237.3L306.2 262.8zM306.3 242.1L308.0 240.7L309.7 242.1L308.0 266.9zM308.0 234.9L309.7 228.4L311.4 234.9L309.7 260.6zM309.8 236.5L311.5 231.9L313.2 236.5L311.5 260.4zM311.6 235.4L313.3 234.1L315.0 235.4L313.3 257.0zM313.3 240.3L315.0 236.9L316.7 240.3L315.0 261.5zM315.1 242.2L316.8 237.7L318.5 242.2L316.8 262.3zM316.9 242.8L318.6 240.5L320.3 242.8L318.6 261.5zM318.6 244.6L320.3 238.6L322.0 244.6L320.3 266.4zM320.4 247.2L322.1 244.6L323.8 247.2L322.1 266.6zM322.1 248.5L323.8 246.7L325.5 248.5L323.8 266.8zM323.9 256.9L325.6 237.9L327.3 256.9L325.6 268.7zM325.7 254.2L327.4 252.5L329.1 254.2L327.4 273.5zM327.4 252.2L329.1 248.5L330.8 252.2L329.1 268.4zM329.2 251.8L330.9 248.3L332.6 251.8L330.9 267.9zM331.0 250.5L332.7 246.3L334.4 250.5L332.7 266.6zM332.7 255.5L334.4 252.7L336.1 255.5L334.4 274.2zM334.5 253.0L336.2 248.3L337.9 253.0L336.2 265.5zM336.3 252.7L338.0 249.8L339.7 252.7L338.0 266.5zM338.0 257.9L339.7 256.4L341.4 257.9L339.7 270.7zM339.8 251.9L341.5 244.1L343.2 251.9L341.5 262.4zM341.6 252.4L343.3 249.9L345.0 252.4L343.3 265.2zM343.3 254.7L345.0 249.4L346.7 254.7L345.0 265.0zM345.1 256.7L346.8 250.2L348.5 256.7L346.8 266.1zM346.9 255.5L348.6 250.8L350.3 255.5L348.6 265.1zM348.6 251.8L350.3 246.6L352.0 251.8L350.3 263.8zM350.4 250.2L352.1 248.3L353.8 250.2L352.1 259.6zM352.2 255.9L353.9 253.5L355.6 255.9L353.9 264.4zM353.9 253.0L355.6 230.9L357.3 253.0L355.6 264.9zM355.7 254.0L357.4 250.3L359.1 254.0L357.4 266.0zM357.5 255.6L359.2 249.0L360.9 255.6L359.2 263.7zM359.2 269.3L360.9 266.8L362.6 269.3L360.9 278.4zM361.0 259.1L362.7 256.2L364.4 259.1L362.7 269.6zM362.8 262.1L364.5 259.3L366.2 262.1L364.5 269.6zM364.5 257.2L366.2 249.4L367.9 257.2L366.2 263.3zM366.3 264.0L368.0 259.7L369.7 264.0L368.0 269.0zM368.1 263.1L369.8 260.6L371.5 263.1L369.8 274.9zM369.8 259.8L371.5 258.5L373.2 259.8L371.5 271.0zM371.6 256.5L373.3 253.5L375.0 256.5L373.3 265.6zM373.4 257.5L375.1 253.2L376.8 257.5L375.1 265.9zM375.1 263.5L376.8 263.1L378.5 263.5L376.8 265.9zM376.9 242.5L378.6 242.1L380.3 242.5L378.6 244.8z" stroke-width="0.5" stroke-linejoin="miter"/>
<polyline points="64.3,265.9 66.1,266.8 67.8,267.6 69.6,267.2 71.4,266.7 73.1,266.3 74.9,266.4 76.7,266.3 78.4,266.3 80.2,266.8 82.0,266.9 83.7,267.0 85.5,266.6 87.3,266.8 89.0,265.9 90.8,266.2 92.5,266.1 94.3,266.7 96.1,266.5 97.8,266.2 99.6,265.5 101.4,263.0 103.1,259.7 104.9,258.7 106.7,259.2 108.4,259.5 110.2,259.0 112.0,258.1 113.7,257.6 115.5,257.3 117.3,256.5 119.0,255.3 120.8,253.9 122.6,253.6 124.3,252.5 126.1,247.9 127.9,245.9 129.6,244.8 131.4,242.9 133.2,238.6 134.9,235.1 136.7,230.2 138.5,228.0 140.2,223.9 142.0,221.5 143.8,217.8 145.5,213.7 147.3,209.2 149.0,207.0 150.8,207.3 152.6,201.1 154.3,192.8 156.1,189.1 157.9,183.9 159.6,178.2 161.4,173.9 163.2,169.8 164.9,160.3 166.7,157.4 168.5,151.2 170.2,148.3 172.0,141.2 173.8,134.5 175.5,127.4 177.3,120.4 179.1,120.7 180.8,118.0 182.6,113.4 184.4,112.2 186.1,104.5 187.9,99.5 189.7,96.2 191.4,94.4 193.2,90.6 195.0,91.6 196.7,87.4 198.5,85.2 200.3,85.7 202.0,83.0 203.8,80.3 205.6,79.5 207.3,79.0 209.1,82.9 210.8,82.1 212.6,82.8 214.4,81.1 216.1,81.1 217.9,85.9 219.7,89.2 221.4,91.2 223.2,101.5 225.0,102.2 226.7,108.1 228.5,106.0 230.3,107.3 232.0,117.3 233.8,117.9 235.6,118.7 237.3,121.6 239.1,127.0 240.9,132.4 242.6,136.2 244.4,143.2 246.2,145.9 247.9,151.1 249.7,155.7 251.5,151.7 253.2,160.5 255.0,165.8 256.8,170.8 258.5,179.8 260.3,180.5 262.1,179.6 263.8,181.4 265.6,190.3 267.3,192.1 269.1,190.8 270.9,193.2 272.6,204.0 274.4,196.6 276.2,196.8 277.9,205.2 279.7,210.5 281.5,210.6 283.2,213.7 285.0,212.3 286.8,206.9 288.5,215.5 290.3,217.8 292.1,218.8 293.8,217.3 295.6,217.7 297.4,220.6 299.1,226.6 300.9,229.0 302.7,227.8 304.4,235.3 306.2,237.3 308.0,242.1 309.7,234.9 311.5,236.5 313.3,235.4 315.0,240.3 316.8,242.2 318.6,242.8 320.3,244.6 322.1,247.2 323.8,248.5 325.6,256.9 327.4,254.2 329.1,252.2 330.9,251.8 332.7,250.5 334.4,255.5 336.2,253.0 338.0,252.7 339.7,257.9 341.5,251.9 343.3,252.4 345.0,254.7 346.8,256.7 348.6,255.5 350.3,251.8 352.1,250.2 353.9,255.9 355.6,253.0 357.4,254.0 359.2,255.6 360.9,269.3 362.7,259.1 364.5,262.1 366.2,257.2 368.0,264.0 369.8,263.1 371.5,259.8 373.3,256.5 375.1,257.5 376.8,263.5 378.6,242.5" fill="none" stroke-width="4.4" stroke-linejoin="round"/>
<path d="M61.0 262.6h6.6v6.6h-6.6zM62.8 263.5h6.6v6.6h-6.6zM64.5 264.3h6.6v6.6h-6.6zM66.3 263.9h6.6v6.6h-6.6zM68.1 263.4h6.6v6.6h-6.6zM69.8 263.0h6.6v6.6h-6.6zM71.6 263.1h6.6v6.6h-6.6zM73.4 263.0h6.6v6.6h-6.6zM75.1 263.0h6.6v6.6h-6.6zM76.9 263.5h6.6v6.6h-6.6zM78.7 263.6h6.6v6.6h-6.6zM80.4 263.7h6.6v6.6h-6.6zM82.2 263.3h6.6v6.6h-6.6zM84.0 263.5h6.6v6.6h-6.6zM85.7 262.6h6.6v6.6h-6.6zM87.5 262.9h6.6v6.6h-6.6zM89.2 262.8h6.6v6.6h-6.6zM91.0 263.4h6.6v6.6h-6.6zM92.8 263.2h6.6v6.6h-6.6zM94.5 262.9h6.6v6.6h-6.6zM96.3 262.2h6.6v6.6h-6.6zM98.1 259.7h6.6v6.6h-6.6zM99.8 256.4h6.6v6.6h-6.6zM101.6 255.4h6.6v6.6h-6.6zM103.4 255.9h6.6v6.6h-6.6zM105.1 256.2h6.6v6.6h-6.6zM106.9 255.7h6.6v6.6h-6.6zM108.7 254.8h6.6v6.6h-6.6zM110.4 254.3h6.6v6.6h-6.6zM112.2 254.0h6.6v6.6h-6.6zM114.0 253.2h6.6v6.6h-6.6zM115.7 252.0h6.6v6.6h-6.6zM117.5 250.6h6.6v6.6h-6.6zM119.3 250.3h6.6v6.6h-6.6zM121.0 249.2h6.6v6.6h-6.6zM122.8 244.6h6.6v6.6h-6.6zM124.6 242.6h6.6v6.6h-6.6zM126.3 241.5h6.6v6.6h-6.6zM128.1 239.6h6.6v6.6h-6.6zM129.9 235.3h6.6v6.6h-6.6zM131.6 231.8h6.6v6.6h-6.6zM133.4 226.9h6.6v6.6h-6.6zM135.2 224.7h6.6v6.6h-6.6zM136.9 220.6h6.6v6.6h-6.6zM138.7 218.2h6.6v6.6h-6.6zM140.5 214.5h6.6v6.6h-6.6zM142.2 210.4h6.6v6.6h-6.6zM144.0 205.9h6.6v6.6h-6.6zM145.7 203.7h6.6v6.6h-6.6zM147.5 204.0h6.6v6.6h-6.6zM149.3 197.8h6.6v6.6h-6.6zM151.0 189.5h6.6v6.6h-6.6zM152.8 185.8h6.6v6.6h-6.6zM154.6 180.6h6.6v6.6h-6.6zM156.3 174.9h6.6v6.6h-6.6zM158.1 170.6h6.6v6.6h-6.6zM159.9 166.5h6.6v6.6h-6.6zM161.6 157.0h6.6v6.6h-6.6zM163.4 154.1h6.6v6.6h-6.6zM165.2 147.9h6.6v6.6h-6.6zM166.9 145.0h6.6v6.6h-6.6zM168.7 137.9h6.6v6.6h-6.6zM170.5 131.2h6.6v6.6h-6.6zM172.2 124.1h6.6v6.6h-6.6zM174.0 117.1h6.6v6.6h-6.6zM175.8 117.4h6.6v6.6h-6.6zM177.5 114.7h6.6v6.6h-6.6zM179.3 110.1h6.6v6.6h-6.6zM181.1 108.9h6.6v6.6h-6.6zM182.8 101.2h6.6v6.6h-6.6zM184.6 96.2h6.6v6.6h-6.6zM186.4 92.9h6.6v6.6h-6.6zM188.1 91.1h6.6v6.6h-6.6zM189.9 87.3h6.6v6.6h-6.6zM191.7 88.3h6.6v6.6h-6.6zM193.4 84.1h6.6v6.6h-6.6zM195.2 81.9h6.6v6.6h-6.6zM197.0 82.4h6.6v6.6h-6.6zM198.7 79.7h6.6v6.6h-6.6zM200.5 77.0h6.6v6.6h-6.6zM202.3 76.2h6.6v6.6h-6.6zM204.0 75.7h6.6v6.6h-6.6zM205.8 79.6h6.6v6.6h-6.6zM207.5 78.8h6.6v6.6h-6.6zM209.3 79.5h6.6v6.6h-6.6zM211.1 77.8h6.6v6.6h-6.6zM212.8 77.8h6.6v6.6h-6.6zM214.6 82.6h6.6v6.6h-6.6zM216.4 85.9h6.6v6.6h-6.6zM218.1 87.9h6.6v6.6h-6.6zM219.9 98.2h6.6v6.6h-6.6zM221.7 98.9h6.6v6.6h-6.6zM223.4 104.8h6.6v6.6h-6.6zM225.2 102.7h6.6v6.6h-6.6zM227.0 104.0h6.6v6.6h-6.6zM228.7 114.0h6.6v6.6h-6.6zM230.5 114.6h6.6v6.6h-6.6zM232.3 115.4h6.6v6.6h-6.6zM234.0 118.3h6.6v6.6h-6.6zM235.8 123.7h6.6v6.6h-6.6zM237.6 129.1h6.6v6.6h-6.6zM239.3 132.9h6.6v6.6h-6.6zM241.1 139.9h6.6v6.6h-6.6zM242.9 142.6h6.6v6.6h-6.6zM244.6 147.8h6.6v6.6h-6.6zM246.4 152.4h6.6v6.6h-6.6zM248.2 148.4h6.6v6.6h-6.6zM249.9 157.2h6.6v6.6h-6.6zM251.7 162.5h6.6v6.6h-6.6zM253.5 167.5h6.6v6.6h-6.6zM255.2 176.5h6.6v6.6h-6.6zM257.0 177.2h6.6v6.6h-6.6zM258.8 176.3h6.6v6.6h-6.6zM260.5 178.1h6.6v6.6h-6.6zM262.3 187.0h6.6v6.6h-6.6zM264.0 188.8h6.6v6.6h-6.6zM265.8 187.5h6.6v6.6h-6.6zM267.6 189.9h6.6v6.6h-6.6zM269.3 200.7h6.6v6.6h-6.6zM271.1 193.3h6.6v6.6h-6.6zM272.9 193.5h6.6v6.6h-6.6zM274.6 201.9h6.6v6.6h-6.6zM276.4 207.2h6.6v6.6h-6.6zM278.2 207.3h6.6v6.6h-6.6zM279.9 210.4h6.6v6.6h-6.6zM281.7 209.0h6.6v6.6h-6.6zM283.5 203.6h6.6v6.6h-6.6zM285.2 212.2h6.6v6.6h-6.6zM287.0 214.5h6.6v6.6h-6.6zM288.8 215.5h6.6v6.6h-6.6zM290.5 214.0h6.6v6.6h-6.6zM292.3 214.4h6.6v6.6h-6.6zM294.1 217.3h6.6v6.6h-6.6zM295.8 223.3h6.6v6.6h-6.6zM297.6 225.7h6.6v6.6h-6.6zM299.4 224.5h6.6v6.6h-6.6zM301.1 232.0h6.6v6.6h-6.6zM302.9 234.0h6.6v6.6h-6.6zM304.7 238.8h6.6v6.6h-6.6zM306.4 231.6h6.6v6.6h-6.6zM308.2 233.2h6.6v6.6h-6.6zM310.0 232.1h6.6v6.6h-6.6zM311.7 237.0h6.6v6.6h-6.6zM313.5 238.9h6.6v6.6h-6.6zM315.3 239.5h6.6v6.6h-6.6zM317.0 241.3h6.6v6.6h-6.6zM318.8 243.9h6.6v6.6h-6.6zM320.5 245.2h6.6v6.6h-6.6zM322.3 253.6h6.6v6.6h-6.6zM324.1 250.9h6.6v6.6h-6.6zM325.8 248.9h6.6v6.6h-6.6zM327.6 248.5h6.6v6.6h-6.6zM329.4 247.2h6.6v6.6h-6.6zM331.1 252.2h6.6v6.6h-6.6zM332.9 249.7h6.6v6.6h-6.6zM334.7 249.4h6.6v6.6h-6.6zM336.4 254.6h6.6v6.6h-6.6zM338.2 248.6h6.6v6.6h-6.6zM340.0 249.1h6.6v6.6h-6.6zM341.7 251.4h6.6v6.6h-6.6zM343.5 253.4h6.6v6.6h-6.6zM345.3 252.2h6.6v6.6h-6.6zM347.0 248.5h6.6v6.6h-6.6zM348.8 246.9h6.6v6.6h-6.6zM350.6 252.6h6.6v6.6h-6.6zM352.3 249.7h6.6v6.6h-6.6zM354.1 250.7h6.6v6.6h-6.6zM355.9 252.3h6.6v6.6h-6.6zM357.6 266.0h6.6v6.6h-6.6zM359.4 255.8h6.6v6.6h-6.6zM361.2 258.8h6.6v6.6h-6.6zM362.9 253.9h6.6v6.6h-6.6zM364.7 260.7h6.6v6.6h-6.6zM366.5 259.8h6.6v6.6h-6.6zM368.2 256.5h6.6v6.6h-6.6zM370.0 253.2h6.6v6.6h-6.6zM371.8 254.2h6.6v6.6h-6.6zM373.5 260.2h6.6v6.6h-6.6zM375.3 239.2h6.6v6.6h-6.6z" stroke="none"/>
</g>
<g stroke="#343434" fill="#343434">
<path d="M62.6 265.5L64.3 263.8L66.0 265.5L64.3 266.0zM64.4 265.3L66.1 262.7L67.8 265.3L66.1 265.9zM66.1 267.1L67.8 265.3L69.5 267.1L67.8 270.0zM67.9 268.1L69.6 267.2L71.3 268.1L69.6 269.8zM69.7 267.2L71.4 265.5L73.1 267.2L71.4 269.5zM71.4 266.3L73.1 263.1L74.8 266.3L73.1 268.4zM73.2 265.8L74.9 263.2L76.6 265.8L74.9 267.7zM75.0 266.2L76.7 265.8L78.4 266.2L76.7 269.1zM76.7 266.2L78.4 265.4L80.1 266.2L78.4 266.9zM78.5 264.7L80.2 263.5L81.9 264.7L80.2 265.6zM80.3 264.9L82.0 264.4L83.7 264.9L82.0 266.4zM82.0 265.4L83.7 264.6L85.4 265.4L83.7 266.1zM83.8 265.0L85.5 264.1L87.2 265.0L85.5 267.0zM85.6 264.1L87.3 262.5L89.0 264.1L87.3 266.0zM87.3 265.4L89.0 264.4L90.7 265.4L89.0 268.3zM89.1 265.9L90.8 264.0L92.5 265.9L90.8 266.9zM90.8 265.3L92.5 262.4L94.2 265.3L92.5 267.8zM92.6 266.5L94.3 265.2L96.0 266.5L94.3 268.5zM94.4 264.7L96.1 262.5L97.8 264.7L96.1 265.2zM96.1 265.1L97.8 264.2L99.5 265.1L97.8 265.8zM97.9 264.5L99.6 262.6L101.3 264.5L99.6 267.1zM99.7 263.7L101.4 261.8L103.1 263.7L101.4 267.3zM101.4 262.7L103.1 260.9L104.8 262.7L103.1 263.7zM103.2 263.7L104.9 263.3L106.6 263.7L104.9 264.5zM105.0 263.5L106.7 260.9L108.4 263.5L106.7 264.2zM106.7 264.4L108.4 263.3L110.1 264.4L108.4 264.9zM108.5 264.9L110.2 264.3L111.9 264.9L110.2 266.1zM110.3 264.1L112.0 261.4L113.7 264.1L112.0 265.8zM112.0 264.9L113.7 263.3L115.4 264.9L113.7 266.1zM113.8 266.1L115.5 265.2L117.2 266.1L115.5 267.0zM115.6 265.2L117.3 261.4L119.0 265.2L117.3 267.1zM117.3 264.5L119.0 262.1L120.7 264.5L119.0 266.9zM119.1 262.9L120.8 261.1L122.5 262.9L120.8 265.9zM120.9 263.4L122.6 262.1L124.3 263.4L122.6 264.2zM122.6 262.6L124.3 261.6L126.0 262.6L124.3 265.2zM124.4 263.0L126.1 261.7L127.8 263.0L126.1 266.1zM126.2 262.5L127.9 259.4L129.6 262.5L127.9 263.4zM127.9 261.3L129.6 260.2L131.3 261.3L129.6 264.0zM129.7 260.4L131.4 258.2L133.1 260.4L131.4 263.5zM131.5 261.2L133.2 258.0L134.9 261.2L133.2 262.3zM133.2 260.0L134.9 259.2L136.6 260.0L134.9 262.0zM135.0 258.5L136.7 257.9L138.4 258.5L136.7 259.9zM136.8 257.7L138.5 256.9L140.2 257.7L138.5 261.1zM138.5 257.9L140.2 257.4L141.9 257.9L140.2 258.8zM140.3 257.3L142.0 256.8L143.7 257.3L142.0 258.1zM142.1 256.8L143.8 255.2L145.5 256.8L143.8 259.8zM143.8 256.5L145.5 255.1L147.2 256.5L145.5 257.1zM145.6 255.0L147.3 254.3L149.0 255.0L147.3 256.6zM147.3 254.0L149.0 252.5L150.7 254.0L149.0 256.2zM149.1 252.0L150.8 251.4L152.5 252.0L150.8 255.4zM150.9 251.5L152.6 250.1L154.3 251.5L152.6 254.3zM152.6 250.2L154.3 248.6L156.0 250.2L154.3 253.3zM154.4 249.4L156.1 243.4L157.8 249.4L156.1 251.8zM156.2 248.7L157.9 247.0L159.6 248.7L157.9 249.1zM157.9 248.4L159.6 247.2L161.3 248.4L159.6 249.2zM159.7 246.8L161.4 244.9L163.1 246.8L161.4 247.5zM161.5 246.1L163.2 243.8L164.9 246.1L163.2 246.6zM163.2 246.2L164.9 244.5L166.6 246.2L164.9 248.1zM165.0 244.3L166.7 241.2L168.4 244.3L166.7 245.9zM166.8 242.4L168.5 239.7L170.2 242.4L168.5 243.1zM168.5 240.3L170.2 238.2L171.9 240.3L170.2 243.0zM170.3 240.6L172.0 238.8L173.7 240.6L172.0 243.4zM172.1 239.3L173.8 238.5L175.5 239.3L173.8 240.3zM173.8 240.4L175.5 238.5L177.2 240.4L175.5 242.2zM175.6 239.6L177.3 237.6L179.0 239.6L177.3 242.3zM177.4 239.4L179.1 237.9L180.8 239.4L179.1 241.7zM179.1 237.2L180.8 236.1L182.5 237.2L180.8 238.6zM180.9 234.8L182.6 233.1L184.3 234.8L182.6 236.3zM182.7 235.1L184.4 232.6L186.1 235.1L184.4 237.0zM184.4 234.8L186.1 234.0L187.8 234.8L186.1 237.8zM186.2 234.4L187.9 232.8L189.6 234.4L187.9 235.0zM188.0 233.7L189.7 232.2L191.4 233.7L189.7 235.8zM189.7 231.6L191.4 228.9L193.1 231.6L191.4 232.8zM191.5 231.7L193.2 230.4L194.9 231.7L193.2 232.4zM193.3 231.2L195.0 227.9L196.7 231.2L195.0 232.6zM195.0 230.4L196.7 227.4L198.4 230.4L196.7 234.2zM196.8 232.0L198.5 231.1L200.2 232.0L198.5 232.5zM198.6 230.2L200.3 227.2L202.0 230.2L200.3 232.2zM200.3 229.4L202.0 228.0L203.7 229.4L202.0 232.0zM202.1 230.4L203.8 229.4L205.5 230.4L203.8 231.1zM203.9 228.9L205.6 227.8L207.3 228.9L205.6 229.4zM205.6 229.7L207.3 226.5L209.0 229.7L207.3 230.2zM207.4 228.0L209.1 223.8L210.8 228.0L209.1 229.0zM209.1 229.0L210.8 225.0L212.5 229.0L210.8 230.7zM210.9 229.0L212.6 227.4L214.3 229.0L212.6 234.4zM212.7 227.9L214.4 224.4L216.1 227.9L214.4 229.2zM214.4 229.3L216.1 228.6L217.8 229.3L216.1 231.2zM216.2 228.1L217.9 227.1L219.6 228.1L217.9 228.9zM218.0 227.0L219.7 224.6L221.4 227.0L219.7 228.7zM219.7 227.3L221.4 225.9L223.1 227.3L221.4 231.2zM221.5 225.9L223.2 225.1L224.9 225.9L223.2 227.1zM223.3 227.1L225.0 223.4L226.7 227.1L225.0 229.0zM225.0 229.8L226.7 228.7L228.4 229.8L226.7 231.1zM226.8 228.8L228.5 227.2L230.2 228.8L228.5 230.3zM228.6 230.0L230.3 229.0L232.0 230.0L230.3 231.3zM230.3 229.3L232.0 228.6L233.7 229.3L232.0 230.2zM232.1 231.1L233.8 230.5L235.5 231.1L233.8 232.0zM233.9 230.4L235.6 229.5L237.3 230.4L235.6 231.2zM235.6 232.8L237.3 230.5L239.0 232.8L237.3 236.0zM237.4 232.0L239.1 231.2L240.8 232.0L239.1 233.6zM239.2 234.4L240.9 231.7L242.6 234.4L240.9 237.3zM240.9 232.5L242.6 230.0L244.3 232.5L242.6 234.9zM242.7 236.0L244.4 234.1L246.1 236.0L244.4 236.8zM244.5 236.7L246.2 235.6L247.9 236.7L246.2 237.7zM246.2 237.0L247.9 235.4L249.6 237.0L247.9 238.2zM248.0 236.7L249.7 235.8L251.4 236.7L249.7 239.3zM249.8 236.2L251.5 235.4L253.2 236.2L251.5 239.6zM251.5 236.0L253.2 234.9L254.9 236.0L253.2 239.8zM253.3 237.7L255.0 236.0L256.7 237.7L255.0 238.8zM255.1 239.2L256.8 236.1L258.5 239.2L256.8 243.3zM256.8 240.4L258.5 239.4L260.2 240.4L258.5 241.1zM258.6 240.0L260.3 238.9L262.0 240.0L260.3 242.3zM260.4 239.9L262.1 237.0L263.8 239.9L262.1 240.8zM262.1 241.9L263.8 240.3L265.5 241.9L263.8 242.7zM263.9 243.4L265.6 240.2L267.3 243.4L265.6 244.0zM265.6 245.4L267.3 244.9L269.0 245.4L267.3 246.5zM267.4 244.0L269.1 242.9L270.8 244.0L269.1 246.5zM269.2 246.0L270.9 245.5L272.6 246.0L270.9 247.3zM270.9 246.1L272.6 241.8L274.3 246.1L272.6 247.7zM272.7 250.1L274.4 249.6L276.1 250.1L274.4 251.0zM274.5 248.9L276.2 248.1L277.9 248.9L276.2 251.2zM276.2 249.8L277.9 248.5L279.6 249.8L277.9 251.9zM278.0 250.2L279.7 249.5L281.4 250.2L279.7 252.3zM279.8 250.2L281.5 248.7L283.2 250.2L281.5 250.7zM281.5 251.2L283.2 249.5L284.9 251.2L283.2 251.9zM283.3 250.6L285.0 248.7L286.7 250.6L285.0 253.0zM285.1 251.9L286.8 246.7L288.5 251.9L286.8 252.4zM286.8 252.3L288.5 251.6L290.2 252.3L288.5 253.1zM288.6 253.3L290.3 252.2L292.0 253.3L290.3 254.7zM290.4 253.9L292.1 252.5L293.8 253.9L292.1 255.3zM292.1 253.8L293.8 251.6L295.5 253.8L293.8 255.5zM293.9 255.0L295.6 253.7L297.3 255.0L295.6 257.5zM295.7 257.5L297.4 255.9L299.1 257.5L297.4 258.8zM297.4 256.0L299.1 254.7L300.8 256.0L299.1 257.1zM299.2 259.0L300.9 257.8L302.6 259.0L300.9 263.3zM301.0 257.8L302.7 256.4L304.4 257.8L302.7 258.2zM302.7 259.1L304.4 257.4L306.1 259.1L304.4 260.1zM304.5 259.0L306.2 258.2L307.9 259.0L306.2 260.5zM306.3 259.7L308.0 257.4L309.7 259.7L308.0 263.5zM308.0 259.6L309.7 257.7L311.4 259.6L309.7 261.2zM309.8 260.1L311.5 258.7L313.2 260.1L311.5 260.6zM311.6 260.6L313.3 259.4L315.0 260.6L313.3 261.9zM313.3 260.8L315.0 258.4L316.7 260.8L315.0 261.3zM315.1 260.8L316.8 258.4L318.5 260.8L316.8 262.5zM316.9 262.1L318.6 257.8L320.3 262.1L318.6 264.1zM318.6 261.5L320.3 260.0L322.0 261.5L320.3 263.5zM320.4 260.2L322.1 258.4L323.8 260.2L322.1 260.7zM322.1 259.3L323.8 258.2L325.5 259.3L323.8 259.9zM323.9 259.3L325.6 257.6L327.3 259.3L325.6 260.0zM325.7 261.5L327.4 260.4L329.1 261.5L327.4 263.2zM327.4 260.5L329.1 258.8L330.8 260.5L329.1 263.2zM329.2 260.8L330.9 258.9L332.6 260.8L330.9 263.1zM331.0 261.1L332.7 260.2L334.4 261.1L332.7 261.5zM332.7 261.6L334.4 259.2L336.1 261.6L334.4 262.4zM334.5 261.9L336.2 261.1L337.9 261.9L336.2 265.6zM336.3 260.8L338.0 259.9L339.7 260.8L338.0 262.4zM338.0 261.9L339.7 261.4L341.4 261.9L339.7 262.8zM339.8 262.5L341.5 261.5L343.2 262.5L341.5 263.3zM341.6 263.3L343.3 262.2L345.0 263.3L343.3 264.2zM343.3 263.1L345.0 262.4L346.7 263.1L345.0 265.9zM345.1 262.0L346.8 260.3L348.5 262.0L346.8 262.8zM346.9 263.0L348.6 262.5L350.3 263.0L348.6 263.7zM348.6 260.8L350.3 259.5L352.0 260.8L350.3 262.9zM350.4 261.2L352.1 259.8L353.8 261.2L352.1 262.4zM352.2 261.4L353.9 260.7L355.6 261.4L353.9 264.4zM353.9 261.7L355.6 259.8L357.3 261.7L355.6 263.9zM355.7 261.2L357.4 260.5L359.1 261.2L357.4 263.0zM357.5 261.9L359.2 259.6L360.9 261.9L359.2 263.6zM359.2 259.9L360.9 257.1L362.6 259.9L360.9 261.1zM361.0 260.0L362.7 259.5L364.4 260.0L362.7 261.5zM362.8 260.8L364.5 259.3L366.2 260.8L364.5 262.1zM364.5 260.6L366.2 258.9L367.9 260.6L366.2 261.5zM366.3 262.0L368.0 261.3L369.7 262.0L368.0 267.0zM368.1 262.2L369.8 260.5L371.5 262.2L369.8 262.9zM369.8 262.3L371.5 259.5L373.2 262.3L371.5 264.4zM371.6 261.6L373.3 259.0L375.0 261.6L373.3 262.5zM373.4 261.9L375.1 260.1L376.8 261.9L375.1 264.6zM375.1 262.4L376.8 262.1L378.5 262.4L376.8 263.7zM376.9 263.2L378.6 262.8L380.3 263.2L378.6 265.6z" stroke-width="0.5" stroke-linejoin="miter"/>
<polyline points="64.3,265.5 66.1,265.3 67.8,267.1 69.6,268.1 71.4,267.2 73.1,266.3 74.9,265.8 76.7,266.2 78.4,266.2 80.2,264.7 82.0,264.9 83.7,265.4 85.5,265.0 87.3,264.1 89.0,265.4 90.8,265.9 92.5,265.3 94.3,266.5 96.1,264.7 97.8,265.1 99.6,264.5 101.4,263.7 103.1,262.7 104.9,263.7 106.7,263.5 108.4,264.4 110.2,264.9 112.0,264.1 113.7,264.9 115.5,266.1 117.3,265.2 119.0,264.5 120.8,262.9 122.6,263.4 124.3,262.6 126.1,263.0 127.9,262.5 129.6,261.3 131.4,260.4 133.2,261.2 134.9,260.0 136.7,258.5 138.5,257.7 140.2,257.9 142.0,257.3 143.8,256.8 145.5,256.5 147.3,255.0 149.0,254.0 150.8,252.0 152.6,251.5 154.3,250.2 156.1,249.4 157.9,248.7 159.6,248.4 161.4,246.8 163.2,246.1 164.9,246.2 166.7,244.3 168.5,242.4 170.2,240.3 172.0,240.6 173.8,239.3 175.5,240.4 177.3,239.6 179.1,239.4 180.8,237.2 182.6,234.8 184.4,235.1 186.1,234.8 187.9,234.4 189.7,233.7 191.4,231.6 193.2,231.7 195.0,231.2 196.7,230.4 198.5,232.0 200.3,230.2 202.0,229.4 203.8,230.4 205.6,228.9 207.3,229.7 209.1,228.0 210.8,229.0 212.6,229.0 214.4,227.9 216.1,229.3 217.9,228.1 219.7,227.0 221.4,227.3 223.2,225.9 225.0,227.1 226.7,229.8 228.5,228.8 230.3,230.0 232.0,229.3 233.8,231.1 235.6,230.4 237.3,232.8 239.1,232.0 240.9,234.4 242.6,232.5 244.4,236.0 246.2,236.7 247.9,237.0 249.7,236.7 251.5,236.2 253.2,236.0 255.0,237.7 256.8,239.2 258.5,240.4 260.3,240.0 262.1,239.9 263.8,241.9 265.6,243.4 267.3,245.4 269.1,244.0 270.9,246.0 272.6,246.1 274.4,250.1 276.2,248.9 277.9,249.8 279.7,250.2 281.5,250.2 283.2,251.2 285.0,250.6 286.8,251.9 288.5,252.3 290.3,253.3 292.1,253.9 293.8,253.8 295.6,255.0 297.4,257.5 299.1,256.0 300.9,259.0 302.7,257.8 304.4,259.1 306.2,259.0 308.0,259.7 309.7,259.6 311.5,260.1 313.3,260.6 315.0,260.8 316.8,260.8 318.6,262.1 320.3,261.5 322.1,260.2 323.8,259.3 325.6,259.3 327.4,261.5 329.1,260.5 330.9,260.8 332.7,261.1 334.4,261.6 336.2,261.9 338.0,260.8 339.7,261.9 341.5,262.5 343.3,263.3 345.0,263.1 346.8,262.0 348.6,263.0 350.3,260.8 352.1,261.2 353.9,261.4 355.6,261.7 357.4,261.2 359.2,261.9 360.9,259.9 362.7,260.0 364.5,260.8 366.2,260.6 368.0,262.0 369.8,262.2 371.5,262.3 373.3,261.6 375.1,261.9 376.8,262.4 378.6,263.2" fill="none" stroke-width="3.2" stroke-linejoin="round"/>
<path d="M64.3 268.2l2.5 -4.8h-5.0zM66.1 268.1l2.5 -4.8h-5.0zM67.8 269.8l2.5 -4.8h-5.0zM69.6 270.8l2.5 -4.8h-5.0zM71.4 270.0l2.5 -4.8h-5.0zM73.1 269.0l2.5 -4.8h-5.0zM74.9 268.5l2.5 -4.8h-5.0zM76.7 269.0l2.5 -4.8h-5.0zM78.4 269.0l2.5 -4.8h-5.0zM80.2 267.4l2.5 -4.8h-5.0zM82.0 267.7l2.5 -4.8h-5.0zM83.7 268.2l2.5 -4.8h-5.0zM85.5 267.8l2.5 -4.8h-5.0zM87.3 266.8l2.5 -4.8h-5.0zM89.0 268.1l2.5 -4.8h-5.0zM90.8 268.7l2.5 -4.8h-5.0zM92.5 268.0l2.5 -4.8h-5.0zM94.3 269.2l2.5 -4.8h-5.0zM96.1 267.4l2.5 -4.8h-5.0zM97.8 267.8l2.5 -4.8h-5.0zM99.6 267.2l2.5 -4.8h-5.0zM101.4 266.5l2.5 -4.8h-5.0zM103.1 265.5l2.5 -4.8h-5.0zM104.9 266.5l2.5 -4.8h-5.0zM106.7 266.2l2.5 -4.8h-5.0zM108.4 267.1l2.5 -4.8h-5.0zM110.2 267.6l2.5 -4.8h-5.0zM112.0 266.9l2.5 -4.8h-5.0zM113.7 267.6l2.5 -4.8h-5.0zM115.5 268.8l2.5 -4.8h-5.0zM117.3 267.9l2.5 -4.8h-5.0zM119.0 267.2l2.5 -4.8h-5.0zM120.8 265.6l2.5 -4.8h-5.0zM122.6 266.2l2.5 -4.8h-5.0zM124.3 265.4l2.5 -4.8h-5.0zM126.1 265.7l2.5 -4.8h-5.0zM127.9 265.2l2.5 -4.8h-5.0zM129.6 264.1l2.5 -4.8h-5.0zM131.4 263.2l2.5 -4.8h-5.0zM133.2 264.0l2.5 -4.8h-5.0zM134.9 262.7l2.5 -4.8h-5.0zM136.7 261.2l2.5 -4.8h-5.0zM138.5 260.4l2.5 -4.8h-5.0zM140.2 260.7l2.5 -4.8h-5.0zM142.0 260.0l2.5 -4.8h-5.0zM143.8 259.6l2.5 -4.8h-5.0zM145.5 259.3l2.5 -4.8h-5.0zM147.3 257.7l2.5 -4.8h-5.0zM149.0 256.8l2.5 -4.8h-5.0zM150.8 254.8l2.5 -4.8h-5.0zM152.6 254.2l2.5 -4.8h-5.0zM154.3 253.0l2.5 -4.8h-5.0zM156.1 252.1l2.5 -4.8h-5.0zM157.9 251.4l2.5 -4.8h-5.0zM159.6 251.2l2.5 -4.8h-5.0zM161.4 249.5l2.5 -4.8h-5.0zM163.2 248.8l2.5 -4.8h-5.0zM164.9 249.0l2.5 -4.8h-5.0zM166.7 247.1l2.5 -4.8h-5.0zM168.5 245.2l2.5 -4.8h-5.0zM170.2 243.0l2.5 -4.8h-5.0zM172.0 243.3l2.5 -4.8h-5.0zM173.8 242.0l2.5 -4.8h-5.0zM175.5 243.1l2.5 -4.8h-5.0zM177.3 242.3l2.5 -4.8h-5.0zM179.1 242.2l2.5 -4.8h-5.0zM180.8 240.0l2.5 -4.8h-5.0zM182.6 237.5l2.5 -4.8h-5.0zM184.4 237.9l2.5 -4.8h-5.0zM186.1 237.5l2.5 -4.8h-5.0zM187.9 237.2l2.5 -4.8h-5.0zM189.7 236.5l2.5 -4.8h-5.0zM191.4 234.4l2.5 -4.8h-5.0zM193.2 234.5l2.5 -4.8h-5.0zM195.0 234.0l2.5 -4.8h-5.0zM196.7 233.1l2.5 -4.8h-5.0zM198.5 234.7l2.5 -4.8h-5.0zM200.3 232.9l2.5 -4.8h-5.0zM202.0 232.2l2.5 -4.8h-5.0zM203.8 233.2l2.5 -4.8h-5.0zM205.6 231.7l2.5 -4.8h-5.0zM207.3 232.4l2.5 -4.8h-5.0zM209.1 230.7l2.5 -4.8h-5.0zM210.8 231.7l2.5 -4.8h-5.0zM212.6 231.8l2.5 -4.8h-5.0zM214.4 230.6l2.5 -4.8h-5.0zM216.1 232.1l2.5 -4.8h-5.0zM217.9 230.8l2.5 -4.8h-5.0zM219.7 229.8l2.5 -4.8h-5.0zM221.4 230.1l2.5 -4.8h-5.0zM223.2 228.7l2.5 -4.8h-5.0zM225.0 229.8l2.5 -4.8h-5.0zM226.7 232.5l2.5 -4.8h-5.0zM228.5 231.6l2.5 -4.8h-5.0zM230.3 232.7l2.5 -4.8h-5.0zM232.0 232.1l2.5 -4.8h-5.0zM233.8 233.8l2.5 -4.8h-5.0zM235.6 233.1l2.5 -4.8h-5.0zM237.3 235.6l2.5 -4.8h-5.0zM239.1 234.7l2.5 -4.8h-5.0zM240.9 237.2l2.5 -4.8h-5.0zM242.6 235.2l2.5 -4.8h-5.0zM244.4 238.7l2.5 -4.8h-5.0zM246.2 239.4l2.5 -4.8h-5.0zM247.9 239.8l2.5 -4.8h-5.0zM249.7 239.4l2.5 -4.8h-5.0zM251.5 239.0l2.5 -4.8h-5.0zM253.2 238.8l2.5 -4.8h-5.0zM255.0 240.5l2.5 -4.8h-5.0zM256.8 242.0l2.5 -4.8h-5.0zM258.5 243.2l2.5 -4.8h-5.0zM260.3 242.8l2.5 -4.8h-5.0zM262.1 242.6l2.5 -4.8h-5.0zM263.8 244.6l2.5 -4.8h-5.0zM265.6 246.1l2.5 -4.8h-5.0zM267.3 248.1l2.5 -4.8h-5.0zM269.1 246.8l2.5 -4.8h-5.0zM270.9 248.8l2.5 -4.8h-5.0zM272.6 248.9l2.5 -4.8h-5.0zM274.4 252.9l2.5 -4.8h-5.0zM276.2 251.7l2.5 -4.8h-5.0zM277.9 252.5l2.5 -4.8h-5.0zM279.7 253.0l2.5 -4.8h-5.0zM281.5 252.9l2.5 -4.8h-5.0zM283.2 253.9l2.5 -4.8h-5.0zM285.0 253.4l2.5 -4.8h-5.0zM286.8 254.6l2.5 -4.8h-5.0zM288.5 255.1l2.5 -4.8h-5.0zM290.3 256.0l2.5 -4.8h-5.0zM292.1 256.6l2.5 -4.8h-5.0zM293.8 256.6l2.5 -4.8h-5.0zM295.6 257.8l2.5 -4.8h-5.0zM297.4 260.3l2.5 -4.8h-5.0zM299.1 258.8l2.5 -4.8h-5.0zM300.9 261.7l2.5 -4.8h-5.0zM302.7 260.6l2.5 -4.8h-5.0zM304.4 261.8l2.5 -4.8h-5.0zM306.2 261.8l2.5 -4.8h-5.0zM308.0 262.4l2.5 -4.8h-5.0zM309.7 262.3l2.5 -4.8h-5.0zM311.5 262.8l2.5 -4.8h-5.0zM313.3 263.3l2.5 -4.8h-5.0zM315.0 263.5l2.5 -4.8h-5.0zM316.8 263.6l2.5 -4.8h-5.0zM318.6 264.8l2.5 -4.8h-5.0zM320.3 264.2l2.5 -4.8h-5.0zM322.1 263.0l2.5 -4.8h-5.0zM323.8 262.1l2.5 -4.8h-5.0zM325.6 262.1l2.5 -4.8h-5.0zM327.4 264.2l2.5 -4.8h-5.0zM329.1 263.3l2.5 -4.8h-5.0zM330.9 263.5l2.5 -4.8h-5.0zM332.7 263.8l2.5 -4.8h-5.0zM334.4 264.3l2.5 -4.8h-5.0zM336.2 264.6l2.5 -4.8h-5.0zM338.0 263.5l2.5 -4.8h-5.0zM339.7 264.6l2.5 -4.8h-5.0zM341.5 265.3l2.5 -4.8h-5.0zM343.3 266.1l2.5 -4.8h-5.0zM345.0 265.9l2.5 -4.8h-5.0zM346.8 264.8l2.5 -4.8h-5.0zM348.6 265.8l2.5 -4.8h-5.0zM350.3 263.6l2.5 -4.8h-5.0zM352.1 264.0l2.5 -4.8h-5.0zM353.9 264.2l2.5 -4.8h-5.0zM355.6 264.4l2.5 -4.8h-5.0zM357.4 264.0l2.5 -4.8h-5.0zM359.2 264.7l2.5 -4.8h-5.0zM360.9 262.6l2.5 -4.8h-5.0zM362.7 262.8l2.5 -4.8h-5.0zM364.5 263.5l2.5 -4.8h-5.0zM366.2 263.4l2.5 -4.8h-5.0zM368.0 264.8l2.5 -4.8h-5.0zM369.8 264.9l2.5 -4.8h-5.0zM371.5 265.0l2.5 -4.8h-5.0zM373.3 264.4l2.5 -4.8h-5.0zM375.1 264.6l2.5 -4.8h-5.0zM376.8 265.2l2.5 -4.8h-5.0zM378.6 266.0l2.5 -4.8h-5.0z" stroke="none"/>
</g>
<g stroke="#727272" fill="#727272">
<path d="M62.3 263.2L64.3 260.5L66.3 263.2L64.3 264.6zM64.1 263.8L66.1 262.0L68.1 263.8L66.1 265.7zM65.8 263.3L67.8 262.0L69.8 263.3L67.8 264.6zM67.6 263.9L69.6 260.9L71.6 263.9L69.6 265.0zM69.4 263.5L71.4 262.4L73.4 263.5L71.4 265.4zM71.1 263.0L73.1 261.8L75.1 263.0L73.1 265.0zM72.9 263.2L74.9 260.2L76.9 263.2L74.9 264.5zM74.7 263.2L76.7 262.0L78.7 263.2L76.7 264.3zM76.4 263.1L78.4 260.6L80.4 263.1L78.4 263.7zM78.2 263.1L80.2 262.2L82.2 263.1L80.2 264.0zM80.0 263.7L82.0 261.2L84.0 263.7L82.0 264.5zM81.7 264.0L83.7 262.5L85.7 264.0L83.7 264.9zM83.5 264.9L85.5 262.7L87.5 264.9L85.5 266.3zM85.3 262.3L87.3 259.9L89.3 262.3L87.3 263.1zM87.0 263.2L89.0 261.3L91.0 263.2L89.0 264.5zM88.8 263.1L90.8 259.8L92.8 263.1L90.8 263.9zM90.5 264.1L92.5 261.1L94.5 264.1L92.5 265.0zM92.3 263.8L94.3 261.4L96.3 263.8L94.3 264.4zM94.1 264.1L96.1 263.1L98.1 264.1L96.1 267.2zM95.8 263.6L97.8 262.3L99.8 263.6L97.8 265.1zM97.6 262.9L99.6 261.5L101.6 262.9L99.6 263.5zM99.4 263.7L101.4 261.9L103.4 263.7L101.4 264.7zM101.1 262.9L103.1 261.7L105.1 262.9L103.1 263.3zM102.9 263.9L104.9 261.3L106.9 263.9L104.9 265.4zM104.7 262.4L106.7 260.3L108.7 262.4L106.7 263.7zM106.4 262.6L108.4 261.3L110.4 262.6L108.4 263.6zM108.2 263.8L110.2 262.9L112.2 263.8L110.2 264.9zM110.0 264.4L112.0 264.0L114.0 264.4L112.0 265.4zM111.7 264.2L113.7 262.9L115.7 264.2L113.7 264.7zM113.5 263.3L115.5 262.4L117.5 263.3L115.5 263.9zM115.3 262.4L117.3 261.7L119.3 262.4L117.3 263.3zM117.0 264.0L119.0 262.2L121.0 264.0L119.0 265.8zM118.8 263.0L120.8 262.3L122.8 263.0L120.8 264.3zM120.6 264.1L122.6 262.3L124.6 264.1L122.6 265.0zM122.3 263.0L124.3 262.3L126.3 263.0L124.3 263.6zM124.1 262.3L126.1 261.9L128.1 262.3L126.1 263.2zM125.9 260.3L127.9 258.2L129.9 260.3L127.9 261.8zM127.6 259.5L129.6 257.3L131.6 259.5L129.6 260.4zM129.4 258.4L131.4 255.8L133.4 258.4L131.4 259.6zM131.2 258.9L133.2 257.3L135.2 258.9L133.2 261.1zM132.9 256.3L134.9 255.4L136.9 256.3L134.9 257.1zM134.7 255.9L136.7 254.3L138.7 255.9L136.7 258.6zM136.5 255.5L138.5 253.9L140.5 255.5L138.5 256.8zM138.2 255.7L140.2 251.1L142.2 255.7L140.2 257.2zM140.0 255.8L142.0 252.8L144.0 255.8L142.0 256.3zM141.8 255.7L143.8 250.9L145.8 255.7L143.8 257.0zM143.5 254.9L145.5 253.8L147.5 254.9L145.5 255.7zM145.3 253.9L147.3 246.7L149.3 253.9L147.3 255.2zM147.0 253.0L149.0 252.1L151.0 253.0L149.0 253.9zM148.8 251.7L150.8 250.2L152.8 251.7L150.8 252.6zM150.6 251.5L152.6 248.2L154.6 251.5L152.6 252.6zM152.3 251.3L154.3 244.7L156.3 251.3L154.3 252.8zM154.1 249.8L156.1 246.0L158.1 249.8L156.1 251.5zM155.9 248.1L157.9 245.0L159.9 248.1L157.9 249.2zM157.6 245.4L159.6 244.5L161.6 245.4L159.6 247.2zM159.4 242.9L161.4 240.6L163.4 242.9L161.4 244.4zM161.2 241.4L163.2 238.3L165.2 241.4L163.2 242.4zM162.9 239.8L164.9 237.5L166.9 239.8L164.9 242.9zM164.7 240.8L166.7 238.8L168.7 240.8L166.7 241.7zM166.5 238.9L168.5 237.3L170.5 238.9L168.5 240.2zM168.2 238.3L170.2 232.0L172.2 238.3L170.2 239.9zM170.0 235.0L172.0 233.1L174.0 235.0L172.0 235.9zM171.8 236.8L173.8 233.9L175.8 236.8L173.8 238.2zM173.5 237.3L175.5 235.5L177.5 237.3L175.5 237.8zM175.3 237.5L177.3 236.4L179.3 237.5L177.3 238.1zM177.1 235.6L179.1 233.9L181.1 235.6L179.1 237.6zM178.8 238.7L180.8 237.1L182.8 238.7L180.8 239.1zM180.6 236.0L182.6 228.8L184.6 236.0L182.6 237.5zM182.4 232.0L184.4 228.8L186.4 232.0L184.4 233.9zM184.1 230.0L186.1 227.1L188.1 230.0L186.1 230.7zM185.9 228.1L187.9 223.1L189.9 228.1L187.9 229.0zM187.7 229.5L189.7 228.2L191.7 229.5L189.7 232.2zM189.4 225.9L191.4 222.5L193.4 225.9L191.4 226.8zM191.2 227.1L193.2 224.9L195.2 227.1L193.2 230.0zM193.0 226.3L195.0 217.6L197.0 226.3L195.0 228.7zM194.7 227.5L196.7 224.2L198.7 227.5L196.7 229.5zM196.5 224.4L198.5 216.5L200.5 224.4L198.5 227.0zM198.3 222.7L200.3 220.7L202.3 222.7L200.3 224.5zM200.0 223.3L202.0 219.1L204.0 223.3L202.0 224.5zM201.8 224.6L203.8 222.6L205.8 224.6L203.8 226.7zM203.6 225.2L205.6 216.7L207.6 225.2L205.6 227.1zM205.3 223.0L207.3 215.8L209.3 223.0L207.3 224.9zM207.1 222.3L209.1 209.6L211.1 222.3L209.1 224.7zM208.8 222.4L210.8 219.4L212.8 222.4L210.8 223.6zM210.6 223.6L212.6 221.6L214.6 223.6L212.6 225.1zM212.4 223.1L214.4 212.0L216.4 223.1L214.4 225.5zM214.1 222.5L216.1 221.3L218.1 222.5L216.1 224.8zM215.9 221.3L217.9 218.0L219.9 221.3L217.9 222.3zM217.7 222.7L219.7 220.2L221.7 222.7L219.7 224.6zM219.4 220.0L221.4 212.1L223.4 220.0L221.4 222.4zM221.2 223.8L223.2 219.1L225.2 223.8L223.2 228.8zM223.0 224.0L225.0 217.3L227.0 224.0L225.0 226.1zM224.7 223.7L226.7 206.4L228.7 223.7L226.7 226.9zM226.5 225.2L228.5 221.1L230.5 225.2L228.5 226.1zM228.3 223.7L230.3 220.7L232.3 223.7L230.3 225.0zM230.0 227.5L232.0 219.6L234.0 227.5L232.0 229.9zM231.8 225.2L233.8 222.6L235.8 225.2L233.8 228.1zM233.6 225.7L235.6 223.7L237.6 225.7L235.6 229.1zM235.3 226.8L237.3 225.1L239.3 226.8L237.3 227.6zM237.1 227.0L239.1 225.8L241.1 227.0L239.1 230.3zM238.9 230.3L240.9 227.4L242.9 230.3L240.9 232.1zM240.6 228.0L242.6 225.3L244.6 228.0L242.6 229.4zM242.4 228.6L244.4 220.7L246.4 228.6L244.4 231.0zM244.2 230.8L246.2 229.4L248.2 230.8L246.2 233.6zM245.9 231.5L247.9 226.7L249.9 231.5L247.9 232.8zM247.7 232.2L249.7 226.9L251.7 232.2L249.7 234.0zM249.5 235.3L251.5 232.4L253.5 235.3L251.5 237.3zM251.2 235.3L253.2 221.9L255.2 235.3L253.2 259.0zM253.0 235.8L255.0 232.2L257.0 235.8L255.0 239.3zM254.8 236.6L256.8 231.2L258.8 236.6L256.8 239.4zM256.5 238.5L258.5 236.5L260.5 238.5L258.5 239.3zM258.3 239.2L260.3 237.4L262.3 239.2L260.3 240.5zM260.1 238.2L262.1 236.7L264.1 238.2L262.1 239.5zM261.8 239.1L263.8 233.0L265.8 239.1L263.8 241.1zM263.6 240.0L265.6 236.6L267.6 240.0L265.6 242.0zM265.3 241.2L267.3 237.7L269.3 241.2L267.3 242.8zM267.1 243.1L269.1 241.6L271.1 243.1L269.1 244.2zM268.9 241.6L270.9 237.3L272.9 241.6L270.9 243.9zM270.6 241.7L272.6 237.9L274.6 241.7L272.6 242.8zM272.4 243.5L274.4 236.1L276.4 243.5L274.4 247.2zM274.2 244.0L276.2 237.4L278.2 244.0L276.2 245.9zM275.9 245.3L277.9 242.6L279.9 245.3L277.9 246.1zM277.7 244.7L279.7 240.6L281.7 244.7L279.7 246.1zM279.5 247.9L281.5 242.7L283.5 247.9L281.5 250.7zM281.2 247.5L283.2 239.5L285.2 247.5L283.2 252.8zM283.0 248.9L285.0 233.8L287.0 248.9L285.0 254.3zM284.8 248.8L286.8 240.9L288.8 248.8L286.8 252.8zM286.5 248.1L288.5 247.3L290.5 248.1L288.5 248.9zM288.3 250.2L290.3 242.2L292.3 250.2L290.3 261.1zM290.1 252.6L292.1 241.9L294.1 252.6L292.1 255.9zM291.8 254.2L293.8 253.4L295.8 254.2L293.8 255.0zM293.6 252.9L295.6 241.4L297.6 252.9L295.6 260.5zM295.4 252.9L297.4 241.8L299.4 252.9L297.4 257.6zM297.1 253.3L299.1 242.0L301.1 253.3L299.1 258.7zM298.9 255.7L300.9 245.9L302.9 255.7L300.9 264.7zM300.7 255.8L302.7 255.1L304.7 255.8L302.7 256.6zM302.4 256.5L304.4 239.5L306.4 256.5L304.4 260.2zM304.2 258.2L306.2 257.4L308.2 258.2L306.2 259.0zM306.0 257.1L308.0 249.5L310.0 257.1L308.0 261.3zM307.7 255.8L309.7 243.2L311.7 255.8L309.7 266.1zM309.5 255.9L311.5 255.1L313.5 255.9L311.5 256.7zM311.3 257.9L313.3 257.1L315.3 257.9L313.3 258.7zM313.0 257.0L315.0 249.8L317.0 257.0L315.0 259.8zM314.8 257.3L316.8 256.5L318.8 257.3L316.8 258.1zM316.6 258.3L318.6 257.5L320.6 258.3L318.6 259.1zM318.3 258.2L320.3 257.4L322.3 258.2L320.3 258.9zM320.1 259.5L322.1 258.7L324.1 259.5L322.1 260.3zM321.8 258.5L323.8 248.2L325.8 258.5L323.8 270.3zM323.6 258.5L325.6 248.4L327.6 258.5L325.6 263.8zM325.4 258.4L327.4 247.8L329.4 258.4L327.4 261.2zM327.1 259.5L329.1 247.6L331.1 259.5L329.1 268.9zM328.9 259.4L330.9 251.5L332.9 259.4L330.9 266.8zM330.7 259.1L332.7 258.3L334.7 259.1L332.7 259.9zM332.4 260.5L334.4 250.0L336.4 260.5L334.4 263.1zM334.2 261.0L336.2 251.5L338.2 261.0L336.2 264.9zM336.0 260.3L338.0 259.5L340.0 260.3L338.0 261.1zM337.7 259.4L339.7 249.9L341.7 259.4L339.7 262.9zM339.5 257.3L341.5 235.0L343.5 257.3L341.5 265.1zM341.3 259.2L343.3 258.4L345.3 259.2L343.3 260.0zM343.0 258.5L345.0 257.7L347.0 258.5L345.0 259.3zM344.8 259.5L346.8 252.0L348.8 259.5L346.8 261.9zM346.6 259.1L348.6 250.4L350.6 259.1L348.6 263.1zM348.3 257.6L350.3 256.8L352.3 257.6L350.3 258.4zM350.1 257.8L352.1 245.5L354.1 257.8L352.1 265.3zM351.9 258.7L353.9 257.9L355.9 258.7L353.9 259.5zM353.6 259.0L355.6 258.2L357.6 259.0L355.6 259.8zM355.4 258.7L357.4 245.5L359.4 258.7L357.4 267.2zM357.2 258.2L359.2 257.4L361.2 258.2L359.2 259.0zM358.9 260.1L360.9 249.8L362.9 260.1L360.9 264.8zM360.7 260.8L362.7 260.0L364.7 260.8L362.7 261.6zM362.5 259.2L364.5 258.4L366.5 259.2L364.5 260.0zM364.2 259.8L366.2 247.7L368.2 259.8L366.2 269.1zM366.0 259.5L368.0 258.7L370.0 259.5L368.0 260.3zM367.8 259.4L369.8 258.6L371.8 259.4L369.8 260.2zM369.5 259.4L371.5 258.6L373.5 259.4L371.5 260.2zM371.3 258.3L373.3 249.1L375.3 258.3L373.3 265.2zM373.1 259.5L375.1 246.8L377.1 259.5L375.1 262.6zM374.8 259.0L376.8 258.6L378.8 259.0L376.8 259.8zM376.6 260.5L378.6 260.1L380.6 260.5L378.6 261.3z" stroke-width="0.5" stroke-linejoin="miter"/>
<polyline points="64.3,263.2 66.1,263.8 67.8,263.3 69.6,263.9 71.4,263.5 73.1,263.0 74.9,263.2 76.7,263.2 78.4,263.1 80.2,263.1 82.0,263.7 83.7,264.0 85.5,264.9 87.3,262.3 89.0,263.2 90.8,263.1 92.5,264.1 94.3,263.8 96.1,264.1 97.8,263.6 99.6,262.9 101.4,263.7 103.1,262.9 104.9,263.9 106.7,262.4 108.4,262.6 110.2,263.8 112.0,264.4 113.7,264.2 115.5,263.3 117.3,262.4 119.0,264.0 120.8,263.0 122.6,264.1 124.3,263.0 126.1,262.3 127.9,260.3 129.6,259.5 131.4,258.4 133.2,258.9 134.9,256.3 136.7,255.9 138.5,255.5 140.2,255.7 142.0,255.8 143.8,255.7 145.5,254.9 147.3,253.9 149.0,253.0 150.8,251.7 152.6,251.5 154.3,251.3 156.1,249.8 157.9,248.1 159.6,245.4 161.4,242.9 163.2,241.4 164.9,239.8 166.7,240.8 168.5,238.9 170.2,238.3 172.0,235.0 173.8,236.8 175.5,237.3 177.3,237.5 179.1,235.6 180.8,238.7 182.6,236.0 184.4,232.0 186.1,230.0 187.9,228.1 189.7,229.5 191.4,225.9 193.2,227.1 195.0,226.3 196.7,227.5 198.5,224.4 200.3,222.7 202.0,223.3 203.8,224.6 205.6,225.2 207.3,223.0 209.1,222.3 210.8,222.4 212.6,223.6 214.4,223.1 216.1,222.5 217.9,221.3 219.7,222.7 221.4,220.0 223.2,223.8 225.0,224.0 226.7,223.7 228.5,225.2 230.3,223.7 232.0,227.5 233.8,225.2 235.6,225.7 237.3,226.8 239.1,227.0 240.9,230.3 242.6,228.0 244.4,228.6 246.2,230.8 247.9,231.5 249.7,232.2 251.5,235.3 253.2,235.3 255.0,235.8 256.8,236.6 258.5,238.5 260.3,239.2 262.1,238.2 263.8,239.1 265.6,240.0 267.3,241.2 269.1,243.1 270.9,241.6 272.6,241.7 274.4,243.5 276.2,244.0 277.9,245.3 279.7,244.7 281.5,247.9 283.2,247.5 285.0,248.9 286.8,248.8 288.5,248.1 290.3,250.2 292.1,252.6 293.8,254.2 295.6,252.9 297.4,252.9 299.1,253.3 300.9,255.7 302.7,255.8 304.4,256.5 306.2,258.2 308.0,257.1 309.7,255.8 311.5,255.9 313.3,257.9 315.0,257.0 316.8,257.3 318.6,258.3 320.3,258.2 322.1,259.5 323.8,258.5 325.6,258.5 327.4,258.4 329.1,259.5 330.9,259.4 332.7,259.1 334.4,260.5 336.2,261.0 338.0,260.3 339.7,259.4 341.5,257.3 343.3,259.2 345.0,258.5 346.8,259.5 348.6,259.1 350.3,257.6 352.1,257.8 353.9,258.7 355.6,259.0 357.4,258.7 359.2,258.2 360.9,260.1 362.7,260.8 364.5,259.2 366.2,259.8 368.0,259.5 369.8,259.4 371.5,259.4 373.3,258.3 375.1,259.5 376.8,259.0 378.6,260.5" fill="none" stroke-width="4.2" stroke-linejoin="round"/>
<path d="M64.3 259.6l3.3 6.3h-6.6zM66.1 260.2l3.3 6.3h-6.6zM67.8 259.7l3.3 6.3h-6.6zM69.6 260.3l3.3 6.3h-6.6zM71.4 259.9l3.3 6.3h-6.6zM73.1 259.3l3.3 6.3h-6.6zM74.9 259.6l3.3 6.3h-6.6zM76.7 259.5l3.3 6.3h-6.6zM78.4 259.5l3.3 6.3h-6.6zM80.2 259.5l3.3 6.3h-6.6zM82.0 260.1l3.3 6.3h-6.6zM83.7 260.4l3.3 6.3h-6.6zM85.5 261.3l3.3 6.3h-6.6zM87.3 258.6l3.3 6.3h-6.6zM89.0 259.5l3.3 6.3h-6.6zM90.8 259.4l3.3 6.3h-6.6zM92.5 260.4l3.3 6.3h-6.6zM94.3 260.2l3.3 6.3h-6.6zM96.1 260.5l3.3 6.3h-6.6zM97.8 260.0l3.3 6.3h-6.6zM99.6 259.3l3.3 6.3h-6.6zM101.4 260.1l3.3 6.3h-6.6zM103.1 259.2l3.3 6.3h-6.6zM104.9 260.3l3.3 6.3h-6.6zM106.7 258.8l3.3 6.3h-6.6zM108.4 258.9l3.3 6.3h-6.6zM110.2 260.2l3.3 6.3h-6.6zM112.0 260.8l3.3 6.3h-6.6zM113.7 260.6l3.3 6.3h-6.6zM115.5 259.7l3.3 6.3h-6.6zM117.3 258.8l3.3 6.3h-6.6zM119.0 260.3l3.3 6.3h-6.6zM120.8 259.4l3.3 6.3h-6.6zM122.6 260.4l3.3 6.3h-6.6zM124.3 259.4l3.3 6.3h-6.6zM126.1 258.7l3.3 6.3h-6.6zM127.9 256.7l3.3 6.3h-6.6zM129.6 255.9l3.3 6.3h-6.6zM131.4 254.8l3.3 6.3h-6.6zM133.2 255.3l3.3 6.3h-6.6zM134.9 252.7l3.3 6.3h-6.6zM136.7 252.3l3.3 6.3h-6.6zM138.5 251.9l3.3 6.3h-6.6zM140.2 252.0l3.3 6.3h-6.6zM142.0 252.2l3.3 6.3h-6.6zM143.8 252.0l3.3 6.3h-6.6zM145.5 251.2l3.3 6.3h-6.6zM147.3 250.2l3.3 6.3h-6.6zM149.0 249.3l3.3 6.3h-6.6zM150.8 248.1l3.3 6.3h-6.6zM152.6 247.9l3.3 6.3h-6.6zM154.3 247.7l3.3 6.3h-6.6zM156.1 246.2l3.3 6.3h-6.6zM157.9 244.4l3.3 6.3h-6.6zM159.6 241.7l3.3 6.3h-6.6zM161.4 239.2l3.3 6.3h-6.6zM163.2 237.8l3.3 6.3h-6.6zM164.9 236.2l3.3 6.3h-6.6zM166.7 237.1l3.3 6.3h-6.6zM168.5 235.3l3.3 6.3h-6.6zM170.2 234.7l3.3 6.3h-6.6zM172.0 231.3l3.3 6.3h-6.6zM173.8 233.1l3.3 6.3h-6.6zM175.5 233.6l3.3 6.3h-6.6zM177.3 233.9l3.3 6.3h-6.6zM179.1 232.0l3.3 6.3h-6.6zM180.8 235.1l3.3 6.3h-6.6zM182.6 232.3l3.3 6.3h-6.6zM184.4 228.3l3.3 6.3h-6.6zM186.1 226.4l3.3 6.3h-6.6zM187.9 224.4l3.3 6.3h-6.6zM189.7 225.9l3.3 6.3h-6.6zM191.4 222.3l3.3 6.3h-6.6zM193.2 223.5l3.3 6.3h-6.6zM195.0 222.7l3.3 6.3h-6.6zM196.7 223.9l3.3 6.3h-6.6zM198.5 220.8l3.3 6.3h-6.6zM200.3 219.0l3.3 6.3h-6.6zM202.0 219.7l3.3 6.3h-6.6zM203.8 221.0l3.3 6.3h-6.6zM205.6 221.6l3.3 6.3h-6.6zM207.3 219.4l3.3 6.3h-6.6zM209.1 218.7l3.3 6.3h-6.6zM210.8 218.7l3.3 6.3h-6.6zM212.6 220.0l3.3 6.3h-6.6zM214.4 219.5l3.3 6.3h-6.6zM216.1 218.9l3.3 6.3h-6.6zM217.9 217.6l3.3 6.3h-6.6zM219.7 219.0l3.3 6.3h-6.6zM221.4 216.4l3.3 6.3h-6.6zM223.2 220.2l3.3 6.3h-6.6zM225.0 220.4l3.3 6.3h-6.6zM226.7 220.1l3.3 6.3h-6.6zM228.5 221.6l3.3 6.3h-6.6zM230.3 220.0l3.3 6.3h-6.6zM232.0 223.9l3.3 6.3h-6.6zM233.8 221.6l3.3 6.3h-6.6zM235.6 222.1l3.3 6.3h-6.6zM237.3 223.2l3.3 6.3h-6.6zM239.1 223.3l3.3 6.3h-6.6zM240.9 226.7l3.3 6.3h-6.6zM242.6 224.3l3.3 6.3h-6.6zM244.4 225.0l3.3 6.3h-6.6zM246.2 227.2l3.3 6.3h-6.6zM247.9 227.9l3.3 6.3h-6.6zM249.7 228.5l3.3 6.3h-6.6zM251.5 231.7l3.3 6.3h-6.6zM253.2 231.7l3.3 6.3h-6.6zM255.0 232.1l3.3 6.3h-6.6zM256.8 232.9l3.3 6.3h-6.6zM258.5 234.8l3.3 6.3h-6.6zM260.3 235.5l3.3 6.3h-6.6zM262.1 234.6l3.3 6.3h-6.6zM263.8 235.5l3.3 6.3h-6.6zM265.6 236.3l3.3 6.3h-6.6zM267.3 237.5l3.3 6.3h-6.6zM269.1 239.5l3.3 6.3h-6.6zM270.9 237.9l3.3 6.3h-6.6zM272.6 238.1l3.3 6.3h-6.6zM274.4 239.8l3.3 6.3h-6.6zM276.2 240.4l3.3 6.3h-6.6zM277.9 241.7l3.3 6.3h-6.6zM279.7 241.0l3.3 6.3h-6.6zM281.5 244.3l3.3 6.3h-6.6zM283.2 243.8l3.3 6.3h-6.6zM285.0 245.3l3.3 6.3h-6.6zM286.8 245.2l3.3 6.3h-6.6zM288.5 244.5l3.3 6.3h-6.6zM290.3 246.6l3.3 6.3h-6.6zM292.1 249.0l3.3 6.3h-6.6zM293.8 250.5l3.3 6.3h-6.6zM295.6 249.3l3.3 6.3h-6.6zM297.4 249.3l3.3 6.3h-6.6zM299.1 249.7l3.3 6.3h-6.6zM300.9 252.1l3.3 6.3h-6.6zM302.7 252.2l3.3 6.3h-6.6zM304.4 252.9l3.3 6.3h-6.6zM306.2 254.6l3.3 6.3h-6.6zM308.0 253.4l3.3 6.3h-6.6zM309.7 252.2l3.3 6.3h-6.6zM311.5 252.3l3.3 6.3h-6.6zM313.3 254.3l3.3 6.3h-6.6zM315.0 253.3l3.3 6.3h-6.6zM316.8 253.6l3.3 6.3h-6.6zM318.6 254.6l3.3 6.3h-6.6zM320.3 254.5l3.3 6.3h-6.6zM322.1 255.9l3.3 6.3h-6.6zM323.8 254.9l3.3 6.3h-6.6zM325.6 254.9l3.3 6.3h-6.6zM327.4 254.7l3.3 6.3h-6.6zM329.1 255.8l3.3 6.3h-6.6zM330.9 255.8l3.3 6.3h-6.6zM332.7 255.4l3.3 6.3h-6.6zM334.4 256.9l3.3 6.3h-6.6zM336.2 257.4l3.3 6.3h-6.6zM338.0 256.6l3.3 6.3h-6.6zM339.7 255.7l3.3 6.3h-6.6zM341.5 253.7l3.3 6.3h-6.6zM343.3 255.6l3.3 6.3h-6.6zM345.0 254.9l3.3 6.3h-6.6zM346.8 255.9l3.3 6.3h-6.6zM348.6 255.5l3.3 6.3h-6.6zM350.3 254.0l3.3 6.3h-6.6zM352.1 254.2l3.3 6.3h-6.6zM353.9 255.0l3.3 6.3h-6.6zM355.6 255.4l3.3 6.3h-6.6zM357.4 255.1l3.3 6.3h-6.6zM359.2 254.5l3.3 6.3h-6.6zM360.9 256.5l3.3 6.3h-6.6zM362.7 257.2l3.3 6.3h-6.6zM364.5 255.6l3.3 6.3h-6.6zM366.2 256.2l3.3 6.3h-6.6zM368.0 255.9l3.3 6.3h-6.6zM369.8 255.8l3.3 6.3h-6.6zM371.5 255.8l3.3 6.3h-6.6zM373.3 254.7l3.3 6.3h-6.6zM375.1 255.8l3.3 6.3h-6.6zM376.8 255.4l3.3 6.3h-6.6zM378.6 256.9l3.3 6.3h-6.6z" stroke="none"/>
</g>
<g font-size="8.3" fill="#000">
<text x="52" y="268.9" text-anchor="end">0</text>
<text x="52" y="189.8" text-anchor="end">10</text>
<text x="52" y="110.8" text-anchor="end">20</text>
<text x="52" y="31.7" text-anchor="end">30</text>
<text x="59.0" y="279.5" text-anchor="middle">0</text>
<text x="164.9" y="279.5" text-anchor="middle">20</text>
<text x="270.9" y="279.5" text-anchor="middle">40</text>
<text x="376.8" y="279.5" text-anchor="middle">60</text>
</g>
<text x="231" y="295.4" font-size="9.2" text-anchor="middle">time (min)</text>
<text transform="translate(34,147) rotate(-90)" font-size="9.4" text-anchor="middle">Thrombin (nM)</text>
<text x="7.3" y="15.5" font-size="12">(a)</text>
<path d="M263.8 26.5H276.8" stroke="#727272" stroke-width="2.8" stroke-linecap="round"/>
<path d="M270.3 23.9l2.8 2.6l-2.8 2.6l-2.8 -2.6z" fill="#727272"/>
<text x="283.5" y="29.9" font-size="9.46" font-weight="normal" fill="#000">Sham</text>
<path d="M263.8 42.7H276.8" stroke="#343434" stroke-width="2.8" stroke-linecap="round"/>
<path d="M270.3 40.1l2.8 2.6l-2.8 2.6l-2.8 -2.6z" fill="#343434"/>
<text x="283.5" y="46.1" font-size="9.46" font-weight="normal" fill="#000">NxL</text>
<path d="M263.8 59.2H276.8" stroke="#000" stroke-width="2.8" stroke-linecap="round"/>
<rect x="267.5" y="56.6" width="5.6" height="5.2" fill="#000"/>
<text x="283.5" y="62.6" font-size="9.46" font-weight="normal" fill="#000">NxH</text>
<path d="M263.8 75.5H276.8" stroke="#b2b2b2" stroke-width="2.8" stroke-linecap="round"/>
<path d="M270.3 72.9l2.8 2.6l-2.8 2.6l-2.8 -2.6z" fill="#b2b2b2"/>
<text x="283.5" y="78.9" font-size="9.46" font-weight="normal" fill="#000">Fitered Sample (NxH) + PRP</text>
<text x="16.3" y="325.9" font-size="12">(b)</text>
<path d="M75.7 486.1V481.5M71.0 481.5h9.4" stroke="#000" stroke-width="1.5" fill="none"/>
<rect x="68.6" y="486.8" width="14.1" height="30.2" fill="#fcfaff" stroke="#000" stroke-width="1.4"/>
<path d="M75.7 517v2.5" stroke="#000" stroke-width="1"/>
<path d="M100.0 402.5V390.4M95.3 390.4h9.4" stroke="#000" stroke-width="1.5" fill="none"/>
<rect x="92.7" y="403.2" width="14.7" height="113.8" fill="#000" stroke="#000" stroke-width="1.4"/>
<path d="M100.0 517v2.5" stroke="#000" stroke-width="1"/>
<path d="M123.6 484.6V482.1M118.9 482.1h9.4" stroke="#000" stroke-width="1.5" fill="none"/>
<rect x="116.5" y="485.3" width="14.1" height="31.7" fill="#808080" stroke="#000" stroke-width="1.4"/>
<path d="M123.6 517v2.5" stroke="#000" stroke-width="1"/>
<path d="M60.1 356.6V517M57.1 517H140" stroke="#000" stroke-width="1.4" fill="none"/>
<path d="M57.1 517.0h3M57.1 485.0h3M57.1 453.0h3M57.1 421.1h3M57.1 389.1h3M57.1 357.1h3" stroke="#000" stroke-width="1.3"/>
<g font-size="8.4" fill="#000">
<text x="55.800000000000004" y="520.0" text-anchor="end">0</text>
<text x="55.800000000000004" y="488.0" text-anchor="end">5</text>
<text x="55.800000000000004" y="456.0" text-anchor="end">10</text>
<text x="55.800000000000004" y="424.1" text-anchor="end">15</text>
<text x="55.800000000000004" y="392.1" text-anchor="end">20</text>
<text x="55.800000000000004" y="360.1" text-anchor="end">25</text>
</g>
<text transform="translate(28.6,437.8) rotate(-90)" font-size="8.6" text-anchor="middle">Peak thrombin</text>
<text transform="translate(38,437.8) rotate(-90)" font-size="8.6" text-anchor="middle">(nM)</text>
<path d="M72.5 379.3H99.5" stroke="#000" stroke-width="1.3"/>
<path d="M98 367.3H122.6" stroke="#000" stroke-width="1.3"/>
<text x="86" y="377.1" font-size="9" text-anchor="middle">****</text>
<text x="110.3" y="364.1" font-size="9" text-anchor="middle">****</text>
<text transform="translate(68.8,535.8) rotate(-45)" font-size="8.4" text-anchor="middle" dx="0 0 1.6 0">Sham</text>
<text transform="translate(94.5,533.2) rotate(-45)" font-size="8.4" text-anchor="middle" dx="0 -2 -2.2">NxH</text>
<text transform="translate(118.1,533.2) rotate(-45)" font-size="8.4" text-anchor="middle" dx="0 -2 -2.2">NxL</text>
<text x="155.2" y="325.9" font-size="12">(c)</text>
<path d="M219.6 497.8V494.7M214.9 494.7h9.4" stroke="#000" stroke-width="1.5" fill="none"/>
<rect x="212.4" y="498.5" width="14.4" height="17.6" fill="#fcfaff" stroke="#000" stroke-width="1.4"/>
<path d="M219.6 516.1v2.5" stroke="#000" stroke-width="1"/>
<path d="M243.4 400.6V386.3M238.7 386.3h9.4" stroke="#000" stroke-width="1.5" fill="none"/>
<rect x="236.1" y="401.3" width="14.5" height="114.8" fill="#000" stroke="#000" stroke-width="1.4"/>
<path d="M243.4 516.1v2.5" stroke="#000" stroke-width="1"/>
<path d="M267.4 497.3V494.1M262.7 494.1h9.4" stroke="#000" stroke-width="1.5" fill="none"/>
<rect x="259.9" y="498.0" width="14.9" height="18.1" fill="#808080" stroke="#000" stroke-width="1.4"/>
<path d="M267.4 516.1v2.5" stroke="#000" stroke-width="1"/>
<path d="M203.8 355.3V516.1M200.8 516.1H283.8" stroke="#000" stroke-width="1.4" fill="none"/>
<path d="M200.8 516.1h3M200.8 489.4h3M200.8 462.7h3M200.8 436.0h3M200.8 409.2h3M200.8 382.5h3M200.8 355.8h3" stroke="#000" stroke-width="1.3"/>
<g font-size="8.4" fill="#000">
<text x="199.5" y="519.1" text-anchor="end">0</text>
<text x="199.5" y="492.4" text-anchor="end">200</text>
<text x="199.5" y="465.7" text-anchor="end">400</text>
<text x="199.5" y="439.0" text-anchor="end">600</text>
<text x="199.5" y="412.2" text-anchor="end">800</text>
<text x="199.5" y="385.5" text-anchor="end">1000</text>
<text x="199.5" y="358.8" text-anchor="end">1200</text>
</g>
<text transform="translate(165,434.6) rotate(-90)" font-size="8.6" text-anchor="middle">ETP-AUC (nM.min)</text>
<path d="M216.5 374.5H243.8" stroke="#000" stroke-width="1.3"/>
<path d="M242 361.9H266.6" stroke="#000" stroke-width="1.3"/>
<text x="229.5" y="372.1" font-size="9" text-anchor="middle">****</text>
<text x="254.7" y="358.6" font-size="9" text-anchor="middle">****</text>
<text transform="translate(212.7,534.9) rotate(-45)" font-size="8.4" text-anchor="middle" dx="0 0 1.6 0">Sham</text>
<text transform="translate(237.9,532.3) rotate(-45)" font-size="8.4" text-anchor="middle" dx="0 -2 -2.2">NxH</text>
<text transform="translate(261.9,532.3) rotate(-45)" font-size="8.4" text-anchor="middle" dx="0 -2 -2.2">NxL</text>
<text x="293.6" y="325.9" font-size="12">(d)</text>
<path d="M341.0 398.0V393.8M336.3 393.8h9.4" stroke="#000" stroke-width="1.5" fill="none"/>
<rect x="333.7" y="398.7" width="14.6" height="117.6" fill="#fcfaff" stroke="#000" stroke-width="1.4"/>
<path d="M341.0 516.3v2.5" stroke="#000" stroke-width="1"/>
<path d="M365.0 432.4V427.3M360.3 427.3h9.4" stroke="#000" stroke-width="1.5" fill="none"/>
<rect x="357.7" y="433.1" width="14.6" height="83.2" fill="#000" stroke="#000" stroke-width="1.4"/>
<path d="M365.0 516.3v2.5" stroke="#000" stroke-width="1"/>
<path d="M389.0 397.2V393.0M384.3 393.0h9.4" stroke="#000" stroke-width="1.5" fill="none"/>
<rect x="381.7" y="397.9" width="14.6" height="118.4" fill="#808080" stroke="#000" stroke-width="1.4"/>
<path d="M389.0 516.3v2.5" stroke="#000" stroke-width="1"/>
<path d="M325.4 356.7V516.3M322.4 516.3H404.6" stroke="#000" stroke-width="1.4" fill="none"/>
<path d="M322.4 516.3h3M322.4 476.5h3M322.4 436.8h3M322.4 397.0h3M322.4 357.2h3" stroke="#000" stroke-width="1.3"/>
<g font-size="8.4" fill="#000">
<text x="321.09999999999997" y="519.3" text-anchor="end">0</text>
<text x="321.09999999999997" y="479.5" text-anchor="end">5</text>
<text x="321.09999999999997" y="439.8" text-anchor="end">10</text>
<text x="321.09999999999997" y="400.0" text-anchor="end">15</text>
<text x="321.09999999999997" y="360.2" text-anchor="end">20</text>
</g>
<text transform="translate(305,436.8) rotate(-90)" font-size="8.6" text-anchor="middle">Mean Lag time (min)</text>
<path d="M337.7 378.2H365.2" stroke="#000" stroke-width="1.3"/>
<path d="M363.3 366H388.1" stroke="#000" stroke-width="1.3"/>
<text x="349.1" y="376.1" font-size="9" text-anchor="middle">***</text>
<text x="374" y="362.6" font-size="9" text-anchor="middle">***</text>
<text transform="translate(334.1,535.1) rotate(-45)" font-size="8.4" text-anchor="middle" dx="0 0 1.6 0">Sham</text>
<text transform="translate(359.5,532.5) rotate(-45)" font-size="8.4" text-anchor="middle" dx="0 -2 -2.2">NxH</text>
<text transform="translate(383.5,532.5) rotate(-45)" font-size="8.4" text-anchor="middle" dx="0 -2 -2.2">NxL</text>
</svg>
</body></html>
